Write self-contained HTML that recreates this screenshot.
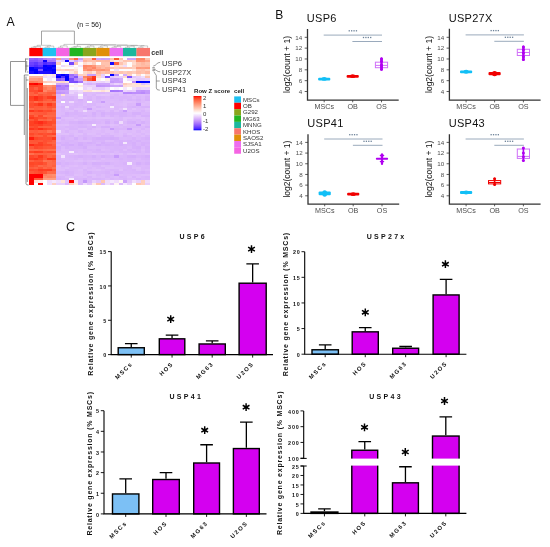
<!DOCTYPE html><html><head><meta charset="utf-8"><style>html,body{margin:0;padding:0;background:#fff;}svg{display:block;filter:blur(0.4px);}text{font-family:"Liberation Sans", sans-serif;}</style></head><body>
<svg width="550" height="547" viewBox="0 0 550 547">
<rect width="550" height="547" fill="#fff"/>
<defs><filter id="hb" x="-2%" y="-2%" width="104%" height="104%"><feGaussianBlur stdDeviation="0.3"/></filter></defs>
<g shape-rendering="crispEdges" filter="url(#hb)">
<rect x="29.30" y="57.80" width="4.76" height="2.57" fill="#9564fd"/>
<rect x="33.76" y="57.80" width="4.76" height="2.57" fill="#8c5cfd"/>
<rect x="38.23" y="57.80" width="4.76" height="2.57" fill="#9c6bfc"/>
<rect x="42.69" y="57.80" width="4.76" height="2.57" fill="#af7dfb"/>
<rect x="47.15" y="57.80" width="4.76" height="2.57" fill="#ba8afb"/>
<rect x="51.61" y="57.80" width="4.76" height="2.57" fill="#b180fb"/>
<rect x="56.08" y="57.80" width="4.76" height="2.57" fill="#ffa387"/>
<rect x="60.54" y="57.80" width="4.76" height="2.57" fill="#cba0fb"/>
<rect x="65.00" y="57.80" width="4.76" height="2.57" fill="#cca2fb"/>
<rect x="69.47" y="57.80" width="4.76" height="2.57" fill="#ff997b"/>
<rect x="73.93" y="57.80" width="4.76" height="2.57" fill="#ff6241"/>
<rect x="78.39" y="57.80" width="4.76" height="2.57" fill="#caa0fb"/>
<rect x="82.86" y="57.80" width="4.76" height="2.57" fill="#ffc3af"/>
<rect x="87.32" y="57.80" width="4.76" height="2.57" fill="#ffc3af"/>
<rect x="91.78" y="57.80" width="4.76" height="2.57" fill="#ff603f"/>
<rect x="96.24" y="57.80" width="4.76" height="2.57" fill="#d0a7fb"/>
<rect x="100.71" y="57.80" width="4.76" height="2.57" fill="#caa0fb"/>
<rect x="105.17" y="57.80" width="4.76" height="2.57" fill="#cda3fb"/>
<rect x="109.63" y="57.80" width="4.76" height="2.57" fill="#ffc1ac"/>
<rect x="114.10" y="57.80" width="4.76" height="2.57" fill="#ff5737"/>
<rect x="118.56" y="57.80" width="4.76" height="2.57" fill="#ffc6b3"/>
<rect x="123.02" y="57.80" width="4.76" height="2.57" fill="#fffefe"/>
<rect x="127.49" y="57.80" width="4.76" height="2.57" fill="#cea5fb"/>
<rect x="131.95" y="57.80" width="4.76" height="2.57" fill="#cda3fb"/>
<rect x="136.41" y="57.80" width="4.76" height="2.57" fill="#ff8969"/>
<rect x="140.87" y="57.80" width="4.76" height="2.57" fill="#ff8666"/>
<rect x="145.34" y="57.80" width="4.76" height="2.57" fill="#ffc2ad"/>
<rect x="29.30" y="60.07" width="4.76" height="2.57" fill="#8455fd"/>
<rect x="33.76" y="60.07" width="4.76" height="2.57" fill="#8254fe"/>
<rect x="38.23" y="60.07" width="4.76" height="2.57" fill="#9060fd"/>
<rect x="42.69" y="60.07" width="4.76" height="2.57" fill="#0d03ff"/>
<rect x="47.15" y="60.07" width="4.76" height="2.57" fill="#a473fc"/>
<rect x="51.61" y="60.07" width="4.76" height="2.57" fill="#a877fc"/>
<rect x="56.08" y="60.07" width="4.76" height="2.57" fill="#ebd4fc"/>
<rect x="60.54" y="60.07" width="4.76" height="2.57" fill="#e7cdfc"/>
<rect x="65.00" y="60.07" width="4.76" height="2.57" fill="#1105ff"/>
<rect x="69.47" y="60.07" width="4.76" height="2.57" fill="#e9cffc"/>
<rect x="73.93" y="60.07" width="4.76" height="2.57" fill="#d2aafb"/>
<rect x="78.39" y="60.07" width="4.76" height="2.57" fill="#e7ccfb"/>
<rect x="82.86" y="60.07" width="4.76" height="2.57" fill="#ffb49c"/>
<rect x="87.32" y="60.07" width="4.76" height="2.57" fill="#ffc0ab"/>
<rect x="91.78" y="60.07" width="4.76" height="2.57" fill="#ffc1ad"/>
<rect x="96.24" y="60.07" width="4.76" height="2.57" fill="#ffb69e"/>
<rect x="100.71" y="60.07" width="4.76" height="2.57" fill="#ffb9a2"/>
<rect x="105.17" y="60.07" width="4.76" height="2.57" fill="#ffb69f"/>
<rect x="109.63" y="60.07" width="4.76" height="2.57" fill="#ffdbce"/>
<rect x="114.10" y="60.07" width="4.76" height="2.57" fill="#ffe7df"/>
<rect x="118.56" y="60.07" width="4.76" height="2.57" fill="#ffdacd"/>
<rect x="123.02" y="60.07" width="4.76" height="2.57" fill="#ffc4b0"/>
<rect x="127.49" y="60.07" width="4.76" height="2.57" fill="#ffc7b4"/>
<rect x="131.95" y="60.07" width="4.76" height="2.57" fill="#ffcfbe"/>
<rect x="136.41" y="60.07" width="4.76" height="2.57" fill="#ff9375"/>
<rect x="140.87" y="60.07" width="4.76" height="2.57" fill="#ff9678"/>
<rect x="145.34" y="60.07" width="4.76" height="2.57" fill="#ffa589"/>
<rect x="29.30" y="62.34" width="4.76" height="2.57" fill="#6d42ff"/>
<rect x="33.76" y="62.34" width="4.76" height="2.57" fill="#5f37ff"/>
<rect x="38.23" y="62.34" width="4.76" height="2.57" fill="#7448fe"/>
<rect x="42.69" y="62.34" width="4.76" height="2.57" fill="#4f2aff"/>
<rect x="47.15" y="62.34" width="4.76" height="2.57" fill="#5f37ff"/>
<rect x="51.61" y="62.34" width="4.76" height="2.57" fill="#5630ff"/>
<rect x="56.08" y="62.34" width="4.76" height="2.57" fill="#ffcdbc"/>
<rect x="60.54" y="62.34" width="4.76" height="2.57" fill="#fffffe"/>
<rect x="65.00" y="62.34" width="4.76" height="2.57" fill="#fffefe"/>
<rect x="69.47" y="62.34" width="4.76" height="2.57" fill="#764afe"/>
<rect x="73.93" y="62.34" width="4.76" height="2.57" fill="#ffc5b1"/>
<rect x="78.39" y="62.34" width="4.76" height="2.57" fill="#fffcfb"/>
<rect x="82.86" y="62.34" width="4.76" height="2.57" fill="#ffdacd"/>
<rect x="87.32" y="62.34" width="4.76" height="2.57" fill="#ffe6dd"/>
<rect x="91.78" y="62.34" width="4.76" height="2.57" fill="#ffcfbe"/>
<rect x="96.24" y="62.34" width="4.76" height="2.57" fill="#fefefe"/>
<rect x="100.71" y="62.34" width="4.76" height="2.57" fill="#ffc3af"/>
<rect x="105.17" y="62.34" width="4.76" height="2.57" fill="#ffc2ae"/>
<rect x="109.63" y="62.34" width="4.76" height="2.57" fill="#1808ff"/>
<rect x="114.10" y="62.34" width="4.76" height="2.57" fill="#ff6241"/>
<rect x="118.56" y="62.34" width="4.76" height="2.57" fill="#ffc3b0"/>
<rect x="123.02" y="62.34" width="4.76" height="2.57" fill="#ffdacd"/>
<rect x="127.49" y="62.34" width="4.76" height="2.57" fill="#fffdfd"/>
<rect x="131.95" y="62.34" width="4.76" height="2.57" fill="#ffdbce"/>
<rect x="136.41" y="62.34" width="4.76" height="2.57" fill="#ffc2ad"/>
<rect x="140.87" y="62.34" width="4.76" height="2.57" fill="#ffb7a0"/>
<rect x="145.34" y="62.34" width="4.76" height="2.57" fill="#ffc1ac"/>
<rect x="29.30" y="64.61" width="4.76" height="2.57" fill="#6037ff"/>
<rect x="33.76" y="64.61" width="4.76" height="2.57" fill="#4f2aff"/>
<rect x="38.23" y="64.61" width="4.76" height="2.57" fill="#5f36ff"/>
<rect x="42.69" y="64.61" width="4.76" height="2.57" fill="#0000ff"/>
<rect x="47.15" y="64.61" width="4.76" height="2.57" fill="#1406ff"/>
<rect x="51.61" y="64.61" width="4.76" height="2.57" fill="#0000ff"/>
<rect x="56.08" y="64.61" width="4.76" height="2.57" fill="#fffcfb"/>
<rect x="60.54" y="64.61" width="4.76" height="2.57" fill="#eed9fc"/>
<rect x="65.00" y="64.61" width="4.76" height="2.57" fill="#ffece5"/>
<rect x="69.47" y="64.61" width="4.76" height="2.57" fill="#f2e4fd"/>
<rect x="73.93" y="64.61" width="4.76" height="2.57" fill="#fffffe"/>
<rect x="78.39" y="64.61" width="4.76" height="2.57" fill="#f3e4fd"/>
<rect x="82.86" y="64.61" width="4.76" height="2.57" fill="#ff8565"/>
<rect x="87.32" y="64.61" width="4.76" height="2.57" fill="#ff8a6a"/>
<rect x="91.78" y="64.61" width="4.76" height="2.57" fill="#ff9678"/>
<rect x="96.24" y="64.61" width="4.76" height="2.57" fill="#ffb69f"/>
<rect x="100.71" y="64.61" width="4.76" height="2.57" fill="#ffb9a3"/>
<rect x="105.17" y="64.61" width="4.76" height="2.57" fill="#ffc2ae"/>
<rect x="109.63" y="64.61" width="4.76" height="2.57" fill="#fff2ee"/>
<rect x="114.10" y="64.61" width="4.76" height="2.57" fill="#ffdacd"/>
<rect x="118.56" y="64.61" width="4.76" height="2.57" fill="#ffe1d6"/>
<rect x="123.02" y="64.61" width="4.76" height="2.57" fill="#efdbfc"/>
<rect x="127.49" y="64.61" width="4.76" height="2.57" fill="#fffefd"/>
<rect x="131.95" y="64.61" width="4.76" height="2.57" fill="#ffccba"/>
<rect x="136.41" y="64.61" width="4.76" height="2.57" fill="#ffc1ac"/>
<rect x="140.87" y="64.61" width="4.76" height="2.57" fill="#ffbba5"/>
<rect x="145.34" y="64.61" width="4.76" height="2.57" fill="#ffbaa4"/>
<rect x="29.30" y="66.89" width="4.76" height="2.57" fill="#0201ff"/>
<rect x="33.76" y="66.89" width="4.76" height="2.57" fill="#1f0bff"/>
<rect x="38.23" y="66.89" width="4.76" height="2.57" fill="#2e14ff"/>
<rect x="42.69" y="66.89" width="4.76" height="2.57" fill="#0e04ff"/>
<rect x="47.15" y="66.89" width="4.76" height="2.57" fill="#0000ff"/>
<rect x="51.61" y="66.89" width="4.76" height="2.57" fill="#1b09ff"/>
<rect x="56.08" y="66.89" width="4.76" height="2.57" fill="#fff0eb"/>
<rect x="60.54" y="66.89" width="4.76" height="2.57" fill="#fffdfc"/>
<rect x="65.00" y="66.89" width="4.76" height="2.57" fill="#fffcfb"/>
<rect x="69.47" y="66.89" width="4.76" height="2.57" fill="#fffefe"/>
<rect x="73.93" y="66.89" width="4.76" height="2.57" fill="#fff2ed"/>
<rect x="78.39" y="66.89" width="4.76" height="2.57" fill="#fffefd"/>
<rect x="82.86" y="66.89" width="4.76" height="2.57" fill="#ff8a6a"/>
<rect x="87.32" y="66.89" width="4.76" height="2.57" fill="#ff987a"/>
<rect x="91.78" y="66.89" width="4.76" height="2.57" fill="#ff8565"/>
<rect x="96.24" y="66.89" width="4.76" height="2.57" fill="#ffac92"/>
<rect x="100.71" y="66.89" width="4.76" height="2.57" fill="#ffbaa4"/>
<rect x="105.17" y="66.89" width="4.76" height="2.57" fill="#ffac92"/>
<rect x="109.63" y="66.89" width="4.76" height="2.57" fill="#ffc2ad"/>
<rect x="114.10" y="66.89" width="4.76" height="2.57" fill="#ffcfbe"/>
<rect x="118.56" y="66.89" width="4.76" height="2.57" fill="#ffc3af"/>
<rect x="123.02" y="66.89" width="4.76" height="2.57" fill="#ffc4b1"/>
<rect x="127.49" y="66.89" width="4.76" height="2.57" fill="#ffc4b0"/>
<rect x="131.95" y="66.89" width="4.76" height="2.57" fill="#ffcebd"/>
<rect x="136.41" y="66.89" width="4.76" height="2.57" fill="#ff997b"/>
<rect x="140.87" y="66.89" width="4.76" height="2.57" fill="#ff9e82"/>
<rect x="145.34" y="66.89" width="4.76" height="2.57" fill="#ff997b"/>
<rect x="29.30" y="69.16" width="4.76" height="2.57" fill="#0000ff"/>
<rect x="33.76" y="69.16" width="4.76" height="2.57" fill="#0000ff"/>
<rect x="38.23" y="69.16" width="4.76" height="2.57" fill="#8153fe"/>
<rect x="42.69" y="69.16" width="4.76" height="2.57" fill="#0000ff"/>
<rect x="47.15" y="69.16" width="4.76" height="2.57" fill="#0702ff"/>
<rect x="51.61" y="69.16" width="4.76" height="2.57" fill="#0000ff"/>
<rect x="56.08" y="69.16" width="4.76" height="2.57" fill="#ffd1c1"/>
<rect x="60.54" y="69.16" width="4.76" height="2.57" fill="#ffd6c8"/>
<rect x="65.00" y="69.16" width="4.76" height="2.57" fill="#ffcab8"/>
<rect x="69.47" y="69.16" width="4.76" height="2.57" fill="#ffd1c1"/>
<rect x="73.93" y="69.16" width="4.76" height="2.57" fill="#ffe2d8"/>
<rect x="78.39" y="69.16" width="4.76" height="2.57" fill="#ffffff"/>
<rect x="82.86" y="69.16" width="4.76" height="2.57" fill="#ff997c"/>
<rect x="87.32" y="69.16" width="4.76" height="2.57" fill="#ff8868"/>
<rect x="91.78" y="69.16" width="4.76" height="2.57" fill="#ff9e81"/>
<rect x="96.24" y="69.16" width="4.76" height="2.57" fill="#ff9779"/>
<rect x="100.71" y="69.16" width="4.76" height="2.57" fill="#ff9273"/>
<rect x="105.17" y="69.16" width="4.76" height="2.57" fill="#ffa185"/>
<rect x="109.63" y="69.16" width="4.76" height="2.57" fill="#fffdfc"/>
<rect x="114.10" y="69.16" width="4.76" height="2.57" fill="#f0defc"/>
<rect x="118.56" y="69.16" width="4.76" height="2.57" fill="#fdfcfe"/>
<rect x="123.02" y="69.16" width="4.76" height="2.57" fill="#fffcfb"/>
<rect x="127.49" y="69.16" width="4.76" height="2.57" fill="#fdfcfe"/>
<rect x="131.95" y="69.16" width="4.76" height="2.57" fill="#ffece5"/>
<rect x="136.41" y="69.16" width="4.76" height="2.57" fill="#ffc6b3"/>
<rect x="140.87" y="69.16" width="4.76" height="2.57" fill="#ffc1ad"/>
<rect x="145.34" y="69.16" width="4.76" height="2.57" fill="#ffcebd"/>
<rect x="29.30" y="71.43" width="4.76" height="2.57" fill="#1707ff"/>
<rect x="33.76" y="71.43" width="4.76" height="2.57" fill="#0000ff"/>
<rect x="38.23" y="71.43" width="4.76" height="2.57" fill="#210cff"/>
<rect x="42.69" y="71.43" width="4.76" height="2.57" fill="#1e0bff"/>
<rect x="47.15" y="71.43" width="4.76" height="2.57" fill="#1f0bff"/>
<rect x="51.61" y="71.43" width="4.76" height="2.57" fill="#0d03ff"/>
<rect x="56.08" y="71.43" width="4.76" height="2.57" fill="#fefdfe"/>
<rect x="60.54" y="71.43" width="4.76" height="2.57" fill="#fff3ee"/>
<rect x="65.00" y="71.43" width="4.76" height="2.57" fill="#fdfbfe"/>
<rect x="69.47" y="71.43" width="4.76" height="2.57" fill="#ffe7df"/>
<rect x="73.93" y="71.43" width="4.76" height="2.57" fill="#ffcfbf"/>
<rect x="78.39" y="71.43" width="4.76" height="2.57" fill="#fffffe"/>
<rect x="82.86" y="71.43" width="4.76" height="2.57" fill="#ffdbce"/>
<rect x="87.32" y="71.43" width="4.76" height="2.57" fill="#ffcdbc"/>
<rect x="91.78" y="71.43" width="4.76" height="2.57" fill="#ffe5dc"/>
<rect x="96.24" y="71.43" width="4.76" height="2.57" fill="#ffb69f"/>
<rect x="100.71" y="71.43" width="4.76" height="2.57" fill="#ffc3af"/>
<rect x="105.17" y="71.43" width="4.76" height="2.57" fill="#ffb8a1"/>
<rect x="109.63" y="71.43" width="4.76" height="2.57" fill="#ffc2ad"/>
<rect x="114.10" y="71.43" width="4.76" height="2.57" fill="#ffcfbf"/>
<rect x="118.56" y="71.43" width="4.76" height="2.57" fill="#ffc3af"/>
<rect x="123.02" y="71.43" width="4.76" height="2.57" fill="#ffcdbb"/>
<rect x="127.49" y="71.43" width="4.76" height="2.57" fill="#ffc4b0"/>
<rect x="131.95" y="71.43" width="4.76" height="2.57" fill="#ffcdbc"/>
<rect x="136.41" y="71.43" width="4.76" height="2.57" fill="#ffbba5"/>
<rect x="140.87" y="71.43" width="4.76" height="2.57" fill="#ffc2ad"/>
<rect x="145.34" y="71.43" width="4.76" height="2.57" fill="#ffb69f"/>
<rect x="29.30" y="73.70" width="4.76" height="2.57" fill="#fffcfb"/>
<rect x="33.76" y="73.70" width="4.76" height="2.57" fill="#fffdfc"/>
<rect x="38.23" y="73.70" width="4.76" height="2.57" fill="#fffdfd"/>
<rect x="42.69" y="73.70" width="4.76" height="2.57" fill="#ffe5db"/>
<rect x="47.15" y="73.70" width="4.76" height="2.57" fill="#ffeee8"/>
<rect x="51.61" y="73.70" width="4.76" height="2.57" fill="#ffe4db"/>
<rect x="56.08" y="73.70" width="4.76" height="2.57" fill="#200cff"/>
<rect x="60.54" y="73.70" width="4.76" height="2.57" fill="#0000ff"/>
<rect x="65.00" y="73.70" width="4.76" height="2.57" fill="#1e0bff"/>
<rect x="69.47" y="73.70" width="4.76" height="2.57" fill="#9e6dfc"/>
<rect x="73.93" y="73.70" width="4.76" height="2.57" fill="#ba8afb"/>
<rect x="78.39" y="73.70" width="4.76" height="2.57" fill="#ffd1c2"/>
<rect x="82.86" y="73.70" width="4.76" height="2.57" fill="#ffd1c1"/>
<rect x="87.32" y="73.70" width="4.76" height="2.57" fill="#ca9ffb"/>
<rect x="91.78" y="73.70" width="4.76" height="2.57" fill="#ca9efb"/>
<rect x="96.24" y="73.70" width="4.76" height="2.57" fill="#ffc8b5"/>
<rect x="100.71" y="73.70" width="4.76" height="2.57" fill="#e7cdfc"/>
<rect x="105.17" y="73.70" width="4.76" height="2.57" fill="#fffcfb"/>
<rect x="109.63" y="73.70" width="4.76" height="2.57" fill="#0000ff"/>
<rect x="114.10" y="73.70" width="4.76" height="2.57" fill="#ba8afb"/>
<rect x="118.56" y="73.70" width="4.76" height="2.57" fill="#fefdfe"/>
<rect x="123.02" y="73.70" width="4.76" height="2.57" fill="#d3acfb"/>
<rect x="127.49" y="73.70" width="4.76" height="2.57" fill="#ffd2c3"/>
<rect x="131.95" y="73.70" width="4.76" height="2.57" fill="#fffdfc"/>
<rect x="136.41" y="73.70" width="4.76" height="2.57" fill="#ffd9cb"/>
<rect x="140.87" y="73.70" width="4.76" height="2.57" fill="#fdfbfe"/>
<rect x="145.34" y="73.70" width="4.76" height="2.57" fill="#ffe1d6"/>
<rect x="29.30" y="75.97" width="4.76" height="2.57" fill="#ffb69e"/>
<rect x="33.76" y="75.97" width="4.76" height="2.57" fill="#ffb59d"/>
<rect x="38.23" y="75.97" width="4.76" height="2.57" fill="#ffb59e"/>
<rect x="42.69" y="75.97" width="4.76" height="2.57" fill="#efdbfc"/>
<rect x="47.15" y="75.97" width="4.76" height="2.57" fill="#f3e5fd"/>
<rect x="51.61" y="75.97" width="4.76" height="2.57" fill="#eed9fc"/>
<rect x="56.08" y="75.97" width="4.76" height="2.57" fill="#0000ff"/>
<rect x="60.54" y="75.97" width="4.76" height="2.57" fill="#532eff"/>
<rect x="65.00" y="75.97" width="4.76" height="2.57" fill="#0000ff"/>
<rect x="69.47" y="75.97" width="4.76" height="2.57" fill="#a979fb"/>
<rect x="73.93" y="75.97" width="4.76" height="2.57" fill="#8455fd"/>
<rect x="78.39" y="75.97" width="4.76" height="2.57" fill="#debbfb"/>
<rect x="82.86" y="75.97" width="4.76" height="2.57" fill="#ff8666"/>
<rect x="87.32" y="75.97" width="4.76" height="2.57" fill="#ff714f"/>
<rect x="91.78" y="75.97" width="4.76" height="2.57" fill="#ff381d"/>
<rect x="96.24" y="75.97" width="4.76" height="2.57" fill="#ffd9cb"/>
<rect x="100.71" y="75.97" width="4.76" height="2.57" fill="#ead0fc"/>
<rect x="105.17" y="75.97" width="4.76" height="2.57" fill="#7146fe"/>
<rect x="109.63" y="75.97" width="4.76" height="2.57" fill="#e2c3fb"/>
<rect x="114.10" y="75.97" width="4.76" height="2.57" fill="#e7ccfb"/>
<rect x="118.56" y="75.97" width="4.76" height="2.57" fill="#e8cdfc"/>
<rect x="123.02" y="75.97" width="4.76" height="2.57" fill="#ffdacd"/>
<rect x="127.49" y="75.97" width="4.76" height="2.57" fill="#7f52fe"/>
<rect x="131.95" y="75.97" width="4.76" height="2.57" fill="#e3c4fb"/>
<rect x="136.41" y="75.97" width="4.76" height="2.57" fill="#e9cffc"/>
<rect x="140.87" y="75.97" width="4.76" height="2.57" fill="#efddfc"/>
<rect x="145.34" y="75.97" width="4.76" height="2.57" fill="#ffc2ad"/>
<rect x="29.30" y="78.24" width="4.76" height="2.57" fill="#ff9e81"/>
<rect x="33.76" y="78.24" width="4.76" height="2.57" fill="#ff9d81"/>
<rect x="38.23" y="78.24" width="4.76" height="2.57" fill="#ff9678"/>
<rect x="42.69" y="78.24" width="4.76" height="2.57" fill="#fffdfc"/>
<rect x="47.15" y="78.24" width="4.76" height="2.57" fill="#f5e9fd"/>
<rect x="51.61" y="78.24" width="4.76" height="2.57" fill="#fefdfe"/>
<rect x="56.08" y="78.24" width="4.76" height="2.57" fill="#8a5afd"/>
<rect x="60.54" y="78.24" width="4.76" height="2.57" fill="#9c6bfc"/>
<rect x="65.00" y="78.24" width="4.76" height="2.57" fill="#0000ff"/>
<rect x="69.47" y="78.24" width="4.76" height="2.57" fill="#7d4ffe"/>
<rect x="73.93" y="78.24" width="4.76" height="2.57" fill="#b988fb"/>
<rect x="78.39" y="78.24" width="4.76" height="2.57" fill="#cba0fb"/>
<rect x="82.86" y="78.24" width="4.76" height="2.57" fill="#ffa286"/>
<rect x="87.32" y="78.24" width="4.76" height="2.57" fill="#ff5938"/>
<rect x="91.78" y="78.24" width="4.76" height="2.57" fill="#ff2d15"/>
<rect x="96.24" y="78.24" width="4.76" height="2.57" fill="#fff3ef"/>
<rect x="100.71" y="78.24" width="4.76" height="2.57" fill="#fefdfe"/>
<rect x="105.17" y="78.24" width="4.76" height="2.57" fill="#ffeee8"/>
<rect x="109.63" y="78.24" width="4.76" height="2.57" fill="#cda3fb"/>
<rect x="114.10" y="78.24" width="4.76" height="2.57" fill="#c99efb"/>
<rect x="118.56" y="78.24" width="4.76" height="2.57" fill="#d2abfb"/>
<rect x="123.02" y="78.24" width="4.76" height="2.57" fill="#fffcfb"/>
<rect x="127.49" y="78.24" width="4.76" height="2.57" fill="#f0defc"/>
<rect x="131.95" y="78.24" width="4.76" height="2.57" fill="#edd7fc"/>
<rect x="136.41" y="78.24" width="4.76" height="2.57" fill="#e5c7fb"/>
<rect x="140.87" y="78.24" width="4.76" height="2.57" fill="#e5c8fb"/>
<rect x="145.34" y="78.24" width="4.76" height="2.57" fill="#e7cdfc"/>
<rect x="29.30" y="80.51" width="4.76" height="2.57" fill="#ff7b59"/>
<rect x="33.76" y="80.51" width="4.76" height="2.57" fill="#ff805f"/>
<rect x="38.23" y="80.51" width="4.76" height="2.57" fill="#ff8c6d"/>
<rect x="42.69" y="80.51" width="4.76" height="2.57" fill="#ffcbba"/>
<rect x="47.15" y="80.51" width="4.76" height="2.57" fill="#ffd1c2"/>
<rect x="51.61" y="80.51" width="4.76" height="2.57" fill="#ffd8cb"/>
<rect x="56.08" y="80.51" width="4.76" height="2.57" fill="#ffdacd"/>
<rect x="60.54" y="80.51" width="4.76" height="2.57" fill="#ffd6c7"/>
<rect x="65.00" y="80.51" width="4.76" height="2.57" fill="#ffe1d6"/>
<rect x="69.47" y="80.51" width="4.76" height="2.57" fill="#7b4dfe"/>
<rect x="73.93" y="80.51" width="4.76" height="2.57" fill="#7a4dfe"/>
<rect x="78.39" y="80.51" width="4.76" height="2.57" fill="#a674fc"/>
<rect x="82.86" y="80.51" width="4.76" height="2.57" fill="#ead1fc"/>
<rect x="87.32" y="80.51" width="4.76" height="2.57" fill="#e3c5fb"/>
<rect x="91.78" y="80.51" width="4.76" height="2.57" fill="#e8cefc"/>
<rect x="96.24" y="80.51" width="4.76" height="2.57" fill="#ebd3fc"/>
<rect x="100.71" y="80.51" width="4.76" height="2.57" fill="#e9d0fc"/>
<rect x="105.17" y="80.51" width="4.76" height="2.57" fill="#efddfc"/>
<rect x="109.63" y="80.51" width="4.76" height="2.57" fill="#c599fb"/>
<rect x="114.10" y="80.51" width="4.76" height="2.57" fill="#cba0fb"/>
<rect x="118.56" y="80.51" width="4.76" height="2.57" fill="#cba0fb"/>
<rect x="123.02" y="80.51" width="4.76" height="2.57" fill="#fffefe"/>
<rect x="127.49" y="80.51" width="4.76" height="2.57" fill="#fffffe"/>
<rect x="131.95" y="80.51" width="4.76" height="2.57" fill="#bb8bfb"/>
<rect x="136.41" y="80.51" width="4.76" height="2.57" fill="#0000ff"/>
<rect x="140.87" y="80.51" width="4.76" height="2.57" fill="#0200ff"/>
<rect x="145.34" y="80.51" width="4.76" height="2.57" fill="#0000ff"/>
<rect x="29.30" y="82.79" width="4.76" height="2.57" fill="#ff1105"/>
<rect x="33.76" y="82.79" width="4.76" height="2.57" fill="#ff0000"/>
<rect x="38.23" y="82.79" width="4.76" height="2.57" fill="#ff200d"/>
<rect x="42.69" y="82.79" width="4.76" height="2.57" fill="#fff8f5"/>
<rect x="47.15" y="82.79" width="4.76" height="2.57" fill="#fffcfb"/>
<rect x="51.61" y="82.79" width="4.76" height="2.57" fill="#fff3ee"/>
<rect x="56.08" y="82.79" width="4.76" height="2.57" fill="#cfa6fb"/>
<rect x="60.54" y="82.79" width="4.76" height="2.57" fill="#cfa6fb"/>
<rect x="65.00" y="82.79" width="4.76" height="2.57" fill="#d1a9fb"/>
<rect x="69.47" y="82.79" width="4.76" height="2.57" fill="#fffefe"/>
<rect x="73.93" y="82.79" width="4.76" height="2.57" fill="#f5e8fd"/>
<rect x="78.39" y="82.79" width="4.76" height="2.57" fill="#fefefe"/>
<rect x="82.86" y="82.79" width="4.76" height="2.57" fill="#dfbdfb"/>
<rect x="87.32" y="82.79" width="4.76" height="2.57" fill="#d9b4fb"/>
<rect x="91.78" y="82.79" width="4.76" height="2.57" fill="#debbfb"/>
<rect x="96.24" y="82.79" width="4.76" height="2.57" fill="#cea5fb"/>
<rect x="100.71" y="82.79" width="4.76" height="2.57" fill="#cfa6fb"/>
<rect x="105.17" y="82.79" width="4.76" height="2.57" fill="#cfa5fb"/>
<rect x="109.63" y="82.79" width="4.76" height="2.57" fill="#e1c2fb"/>
<rect x="114.10" y="82.79" width="4.76" height="2.57" fill="#ebd3fc"/>
<rect x="118.56" y="82.79" width="4.76" height="2.57" fill="#e7ccfb"/>
<rect x="123.02" y="82.79" width="4.76" height="2.57" fill="#ffcdbb"/>
<rect x="127.49" y="82.79" width="4.76" height="2.57" fill="#ffd9cc"/>
<rect x="131.95" y="82.79" width="4.76" height="2.57" fill="#ffe3d8"/>
<rect x="136.41" y="82.79" width="4.76" height="2.57" fill="#ffdfd3"/>
<rect x="140.87" y="82.79" width="4.76" height="2.57" fill="#e2c2fb"/>
<rect x="145.34" y="82.79" width="4.76" height="2.57" fill="#e8cefc"/>
<rect x="29.30" y="85.06" width="4.76" height="2.57" fill="#ff4225"/>
<rect x="33.76" y="85.06" width="4.76" height="2.57" fill="#ff4426"/>
<rect x="38.23" y="85.06" width="4.76" height="2.57" fill="#ff4a2b"/>
<rect x="42.69" y="85.06" width="4.76" height="2.57" fill="#ff8b6c"/>
<rect x="47.15" y="85.06" width="4.76" height="2.57" fill="#ff9273"/>
<rect x="51.61" y="85.06" width="4.76" height="2.57" fill="#ff8666"/>
<rect x="56.08" y="85.06" width="4.76" height="2.57" fill="#a472fc"/>
<rect x="60.54" y="85.06" width="4.76" height="2.57" fill="#b382fb"/>
<rect x="65.00" y="85.06" width="4.76" height="2.57" fill="#a776fc"/>
<rect x="69.47" y="85.06" width="4.76" height="2.57" fill="#fff0ea"/>
<rect x="73.93" y="85.06" width="4.76" height="2.57" fill="#fff4f0"/>
<rect x="78.39" y="85.06" width="4.76" height="2.57" fill="#ffebe3"/>
<rect x="82.86" y="85.06" width="4.76" height="2.57" fill="#ebd3fc"/>
<rect x="87.32" y="85.06" width="4.76" height="2.57" fill="#e9d0fc"/>
<rect x="91.78" y="85.06" width="4.76" height="2.57" fill="#ead1fc"/>
<rect x="96.24" y="85.06" width="4.76" height="2.57" fill="#c192fb"/>
<rect x="100.71" y="85.06" width="4.76" height="2.57" fill="#c396fb"/>
<rect x="105.17" y="85.06" width="4.76" height="2.57" fill="#c69afb"/>
<rect x="109.63" y="85.06" width="4.76" height="2.57" fill="#cda3fb"/>
<rect x="114.10" y="85.06" width="4.76" height="2.57" fill="#cfa5fb"/>
<rect x="118.56" y="85.06" width="4.76" height="2.57" fill="#ca9ffb"/>
<rect x="123.02" y="85.06" width="4.76" height="2.57" fill="#ffdfd4"/>
<rect x="127.49" y="85.06" width="4.76" height="2.57" fill="#ffe3d9"/>
<rect x="131.95" y="85.06" width="4.76" height="2.57" fill="#ffe2d8"/>
<rect x="136.41" y="85.06" width="4.76" height="2.57" fill="#ffe4da"/>
<rect x="140.87" y="85.06" width="4.76" height="2.57" fill="#ffe4db"/>
<rect x="145.34" y="85.06" width="4.76" height="2.57" fill="#ffe9e1"/>
<rect x="29.30" y="87.33" width="4.76" height="2.57" fill="#ff5031"/>
<rect x="33.76" y="87.33" width="4.76" height="2.57" fill="#ff613f"/>
<rect x="38.23" y="87.33" width="4.76" height="2.57" fill="#ff482a"/>
<rect x="42.69" y="87.33" width="4.76" height="2.57" fill="#ff7a59"/>
<rect x="47.15" y="87.33" width="4.76" height="2.57" fill="#ff8767"/>
<rect x="51.61" y="87.33" width="4.76" height="2.57" fill="#ff7756"/>
<rect x="56.08" y="87.33" width="4.76" height="2.57" fill="#b180fb"/>
<rect x="60.54" y="87.33" width="4.76" height="2.57" fill="#b180fb"/>
<rect x="65.00" y="87.33" width="4.76" height="2.57" fill="#ba8afb"/>
<rect x="69.47" y="87.33" width="4.76" height="2.57" fill="#fdfbfe"/>
<rect x="73.93" y="87.33" width="4.76" height="2.57" fill="#f9f1fe"/>
<rect x="78.39" y="87.33" width="4.76" height="2.57" fill="#fffcfb"/>
<rect x="82.86" y="87.33" width="4.76" height="2.57" fill="#ebd3fc"/>
<rect x="87.32" y="87.33" width="4.76" height="2.57" fill="#f1dffc"/>
<rect x="91.78" y="87.33" width="4.76" height="2.57" fill="#e8cefc"/>
<rect x="96.24" y="87.33" width="4.76" height="2.57" fill="#e8cdfc"/>
<rect x="100.71" y="87.33" width="4.76" height="2.57" fill="#e7ccfb"/>
<rect x="105.17" y="87.33" width="4.76" height="2.57" fill="#efdcfc"/>
<rect x="109.63" y="87.33" width="4.76" height="2.57" fill="#fefefe"/>
<rect x="114.10" y="87.33" width="4.76" height="2.57" fill="#f9f3fe"/>
<rect x="118.56" y="87.33" width="4.76" height="2.57" fill="#fffffe"/>
<rect x="123.02" y="87.33" width="4.76" height="2.57" fill="#f5e8fd"/>
<rect x="127.49" y="87.33" width="4.76" height="2.57" fill="#fefefe"/>
<rect x="131.95" y="87.33" width="4.76" height="2.57" fill="#f0dffc"/>
<rect x="136.41" y="87.33" width="4.76" height="2.57" fill="#e8cdfc"/>
<rect x="140.87" y="87.33" width="4.76" height="2.57" fill="#ebd4fc"/>
<rect x="145.34" y="87.33" width="4.76" height="2.57" fill="#ead1fc"/>
<rect x="29.30" y="89.60" width="4.76" height="2.57" fill="#ff4c2d"/>
<rect x="33.76" y="89.60" width="4.76" height="2.57" fill="#ff4c2d"/>
<rect x="38.23" y="89.60" width="4.76" height="2.57" fill="#ff371c"/>
<rect x="42.69" y="89.60" width="4.76" height="2.57" fill="#ff8767"/>
<rect x="47.15" y="89.60" width="4.76" height="2.57" fill="#ff7554"/>
<rect x="51.61" y="89.60" width="4.76" height="2.57" fill="#ff7352"/>
<rect x="56.08" y="89.60" width="4.76" height="2.57" fill="#c99efb"/>
<rect x="60.54" y="89.60" width="4.76" height="2.57" fill="#cba0fb"/>
<rect x="65.00" y="89.60" width="4.76" height="2.57" fill="#cca2fb"/>
<rect x="69.47" y="89.60" width="4.76" height="2.57" fill="#e9cffc"/>
<rect x="73.93" y="89.60" width="4.76" height="2.57" fill="#ead1fc"/>
<rect x="78.39" y="89.60" width="4.76" height="2.57" fill="#efdafc"/>
<rect x="82.86" y="89.60" width="4.76" height="2.57" fill="#ffe4da"/>
<rect x="87.32" y="89.60" width="4.76" height="2.57" fill="#ffe0d5"/>
<rect x="91.78" y="89.60" width="4.76" height="2.57" fill="#ffeee7"/>
<rect x="96.24" y="89.60" width="4.76" height="2.57" fill="#ffeae3"/>
<rect x="100.71" y="89.60" width="4.76" height="2.57" fill="#ffe0d5"/>
<rect x="105.17" y="89.60" width="4.76" height="2.57" fill="#ffebe4"/>
<rect x="109.63" y="89.60" width="4.76" height="2.57" fill="#a574fc"/>
<rect x="114.10" y="89.60" width="4.76" height="2.57" fill="#a978fb"/>
<rect x="118.56" y="89.60" width="4.76" height="2.57" fill="#b07ffb"/>
<rect x="123.02" y="89.60" width="4.76" height="2.57" fill="#ebd4fc"/>
<rect x="127.49" y="89.60" width="4.76" height="2.57" fill="#e7ccfb"/>
<rect x="131.95" y="89.60" width="4.76" height="2.57" fill="#e9cffc"/>
<rect x="136.41" y="89.60" width="4.76" height="2.57" fill="#c598fb"/>
<rect x="140.87" y="89.60" width="4.76" height="2.57" fill="#c192fb"/>
<rect x="145.34" y="89.60" width="4.76" height="2.57" fill="#c69afb"/>
<rect x="29.30" y="91.87" width="4.76" height="2.57" fill="#ff6140"/>
<rect x="33.76" y="91.87" width="4.76" height="2.57" fill="#ff5030"/>
<rect x="38.23" y="91.87" width="4.76" height="2.57" fill="#ff6b49"/>
<rect x="42.69" y="91.87" width="4.76" height="2.57" fill="#ff6948"/>
<rect x="47.15" y="91.87" width="4.76" height="2.57" fill="#ff5d3c"/>
<rect x="51.61" y="91.87" width="4.76" height="2.57" fill="#ff5f3e"/>
<rect x="56.08" y="91.87" width="4.76" height="2.57" fill="#c193fb"/>
<rect x="60.54" y="91.87" width="4.76" height="2.57" fill="#c497fb"/>
<rect x="65.00" y="91.87" width="4.76" height="2.57" fill="#ca9ffb"/>
<rect x="69.47" y="91.87" width="4.76" height="2.57" fill="#ebd4fc"/>
<rect x="73.93" y="91.87" width="4.76" height="2.57" fill="#e3c5fb"/>
<rect x="78.39" y="91.87" width="4.76" height="2.57" fill="#ebd3fc"/>
<rect x="82.86" y="91.87" width="4.76" height="2.57" fill="#dcb9fb"/>
<rect x="87.32" y="91.87" width="4.76" height="2.57" fill="#ddbbfb"/>
<rect x="91.78" y="91.87" width="4.76" height="2.57" fill="#ddbbfb"/>
<rect x="96.24" y="91.87" width="4.76" height="2.57" fill="#dbb7fb"/>
<rect x="100.71" y="91.87" width="4.76" height="2.57" fill="#dbb6fb"/>
<rect x="105.17" y="91.87" width="4.76" height="2.57" fill="#debcfb"/>
<rect x="109.63" y="91.87" width="4.76" height="2.57" fill="#e1c1fb"/>
<rect x="114.10" y="91.87" width="4.76" height="2.57" fill="#dfbdfb"/>
<rect x="118.56" y="91.87" width="4.76" height="2.57" fill="#e1c2fb"/>
<rect x="123.02" y="91.87" width="4.76" height="2.57" fill="#b888fb"/>
<rect x="127.49" y="91.87" width="4.76" height="2.57" fill="#b887fb"/>
<rect x="131.95" y="91.87" width="4.76" height="2.57" fill="#bd8efb"/>
<rect x="136.41" y="91.87" width="4.76" height="2.57" fill="#be8ffb"/>
<rect x="140.87" y="91.87" width="4.76" height="2.57" fill="#ba8afb"/>
<rect x="145.34" y="91.87" width="4.76" height="2.57" fill="#c598fb"/>
<rect x="29.30" y="94.14" width="4.76" height="2.57" fill="#ff6140"/>
<rect x="33.76" y="94.14" width="4.76" height="2.57" fill="#ff6846"/>
<rect x="38.23" y="94.14" width="4.76" height="2.57" fill="#ff5434"/>
<rect x="42.69" y="94.14" width="4.76" height="2.57" fill="#ff6140"/>
<rect x="47.15" y="94.14" width="4.76" height="2.57" fill="#ff5e3d"/>
<rect x="51.61" y="94.14" width="4.76" height="2.57" fill="#ff7351"/>
<rect x="56.08" y="94.14" width="4.76" height="2.57" fill="#dbb7fb"/>
<rect x="60.54" y="94.14" width="4.76" height="2.57" fill="#ffdfd4"/>
<rect x="65.00" y="94.14" width="4.76" height="2.57" fill="#debbfb"/>
<rect x="69.47" y="94.14" width="4.76" height="2.57" fill="#e1c1fb"/>
<rect x="73.93" y="94.14" width="4.76" height="2.57" fill="#e0c0fb"/>
<rect x="78.39" y="94.14" width="4.76" height="2.57" fill="#fffefd"/>
<rect x="82.86" y="94.14" width="4.76" height="2.57" fill="#d9b5fb"/>
<rect x="87.32" y="94.14" width="4.76" height="2.57" fill="#debcfb"/>
<rect x="91.78" y="94.14" width="4.76" height="2.57" fill="#dbb7fb"/>
<rect x="96.24" y="94.14" width="4.76" height="2.57" fill="#e1c2fb"/>
<rect x="100.71" y="94.14" width="4.76" height="2.57" fill="#e3c5fb"/>
<rect x="105.17" y="94.14" width="4.76" height="2.57" fill="#e2c3fb"/>
<rect x="109.63" y="94.14" width="4.76" height="2.57" fill="#ddbafb"/>
<rect x="114.10" y="94.14" width="4.76" height="2.57" fill="#dab6fb"/>
<rect x="118.56" y="94.14" width="4.76" height="2.57" fill="#dfbdfb"/>
<rect x="123.02" y="94.14" width="4.76" height="2.57" fill="#dbb7fb"/>
<rect x="127.49" y="94.14" width="4.76" height="2.57" fill="#debcfb"/>
<rect x="131.95" y="94.14" width="4.76" height="2.57" fill="#dab6fb"/>
<rect x="136.41" y="94.14" width="4.76" height="2.57" fill="#debcfb"/>
<rect x="140.87" y="94.14" width="4.76" height="2.57" fill="#dfbdfb"/>
<rect x="145.34" y="94.14" width="4.76" height="2.57" fill="#dcb8fb"/>
<rect x="29.30" y="96.41" width="4.76" height="2.57" fill="#ff4124"/>
<rect x="33.76" y="96.41" width="4.76" height="2.57" fill="#ff2a14"/>
<rect x="38.23" y="96.41" width="4.76" height="2.57" fill="#ff3e22"/>
<rect x="42.69" y="96.41" width="4.76" height="2.57" fill="#ff5132"/>
<rect x="47.15" y="96.41" width="4.76" height="2.57" fill="#ff3e22"/>
<rect x="51.61" y="96.41" width="4.76" height="2.57" fill="#ff371d"/>
<rect x="56.08" y="96.41" width="4.76" height="2.57" fill="#d8b3fb"/>
<rect x="60.54" y="96.41" width="4.76" height="2.57" fill="#dcb9fb"/>
<rect x="65.00" y="96.41" width="4.76" height="2.57" fill="#dab6fb"/>
<rect x="69.47" y="96.41" width="4.76" height="2.57" fill="#d9b4fb"/>
<rect x="73.93" y="96.41" width="4.76" height="2.57" fill="#dcb9fb"/>
<rect x="78.39" y="96.41" width="4.76" height="2.57" fill="#f2e3fd"/>
<rect x="82.86" y="96.41" width="4.76" height="2.57" fill="#ddbafb"/>
<rect x="87.32" y="96.41" width="4.76" height="2.57" fill="#dab5fb"/>
<rect x="91.78" y="96.41" width="4.76" height="2.57" fill="#debbfb"/>
<rect x="96.24" y="96.41" width="4.76" height="2.57" fill="#d8b3fb"/>
<rect x="100.71" y="96.41" width="4.76" height="2.57" fill="#dbb6fb"/>
<rect x="105.17" y="96.41" width="4.76" height="2.57" fill="#ddb9fb"/>
<rect x="109.63" y="96.41" width="4.76" height="2.57" fill="#d9b4fb"/>
<rect x="114.10" y="96.41" width="4.76" height="2.57" fill="#dbb7fb"/>
<rect x="118.56" y="96.41" width="4.76" height="2.57" fill="#dab5fb"/>
<rect x="123.02" y="96.41" width="4.76" height="2.57" fill="#dab5fb"/>
<rect x="127.49" y="96.41" width="4.76" height="2.57" fill="#dab6fb"/>
<rect x="131.95" y="96.41" width="4.76" height="2.57" fill="#debcfb"/>
<rect x="136.41" y="96.41" width="4.76" height="2.57" fill="#dab6fb"/>
<rect x="140.87" y="96.41" width="4.76" height="2.57" fill="#ddbafb"/>
<rect x="145.34" y="96.41" width="4.76" height="2.57" fill="#d8b2fb"/>
<rect x="29.30" y="98.69" width="4.76" height="2.57" fill="#ff4528"/>
<rect x="33.76" y="98.69" width="4.76" height="2.57" fill="#ff3118"/>
<rect x="38.23" y="98.69" width="4.76" height="2.57" fill="#ff4326"/>
<rect x="42.69" y="98.69" width="4.76" height="2.57" fill="#ff5939"/>
<rect x="47.15" y="98.69" width="4.76" height="2.57" fill="#ff5e3d"/>
<rect x="51.61" y="98.69" width="4.76" height="2.57" fill="#ff4c2d"/>
<rect x="56.08" y="98.69" width="4.76" height="2.57" fill="#dbb7fb"/>
<rect x="60.54" y="98.69" width="4.76" height="2.57" fill="#d7b1fb"/>
<rect x="65.00" y="98.69" width="4.76" height="2.57" fill="#d9b4fb"/>
<rect x="69.47" y="98.69" width="4.76" height="2.57" fill="#d7b2fb"/>
<rect x="73.93" y="98.69" width="4.76" height="2.57" fill="#dab6fb"/>
<rect x="78.39" y="98.69" width="4.76" height="2.57" fill="#d7b1fb"/>
<rect x="82.86" y="98.69" width="4.76" height="2.57" fill="#ddb9fb"/>
<rect x="87.32" y="98.69" width="4.76" height="2.57" fill="#d8b2fb"/>
<rect x="91.78" y="98.69" width="4.76" height="2.57" fill="#debbfb"/>
<rect x="96.24" y="98.69" width="4.76" height="2.57" fill="#dab6fb"/>
<rect x="100.71" y="98.69" width="4.76" height="2.57" fill="#debbfb"/>
<rect x="105.17" y="98.69" width="4.76" height="2.57" fill="#ddbafb"/>
<rect x="109.63" y="98.69" width="4.76" height="2.57" fill="#ddbafb"/>
<rect x="114.10" y="98.69" width="4.76" height="2.57" fill="#dcb9fb"/>
<rect x="118.56" y="98.69" width="4.76" height="2.57" fill="#d9b5fb"/>
<rect x="123.02" y="98.69" width="4.76" height="2.57" fill="#ddbafb"/>
<rect x="127.49" y="98.69" width="4.76" height="2.57" fill="#d8b3fb"/>
<rect x="131.95" y="98.69" width="4.76" height="2.57" fill="#dab6fb"/>
<rect x="136.41" y="98.69" width="4.76" height="2.57" fill="#d7b1fb"/>
<rect x="140.87" y="98.69" width="4.76" height="2.57" fill="#dcb8fb"/>
<rect x="145.34" y="98.69" width="4.76" height="2.57" fill="#d7b0fb"/>
<rect x="29.30" y="100.96" width="4.76" height="2.57" fill="#ff5838"/>
<rect x="33.76" y="100.96" width="4.76" height="2.57" fill="#ff6e4c"/>
<rect x="38.23" y="100.96" width="4.76" height="2.57" fill="#ff603e"/>
<rect x="42.69" y="100.96" width="4.76" height="2.57" fill="#ff6b49"/>
<rect x="47.15" y="100.96" width="4.76" height="2.57" fill="#ff6947"/>
<rect x="51.61" y="100.96" width="4.76" height="2.57" fill="#ff7250"/>
<rect x="56.08" y="100.96" width="4.76" height="2.57" fill="#d9b5fb"/>
<rect x="60.54" y="100.96" width="4.76" height="2.57" fill="#fefefe"/>
<rect x="65.00" y="100.96" width="4.76" height="2.57" fill="#ddbafb"/>
<rect x="69.47" y="100.96" width="4.76" height="2.57" fill="#eed9fc"/>
<rect x="73.93" y="100.96" width="4.76" height="2.57" fill="#ddb9fb"/>
<rect x="78.39" y="100.96" width="4.76" height="2.57" fill="#dab5fb"/>
<rect x="82.86" y="100.96" width="4.76" height="2.57" fill="#dcb9fb"/>
<rect x="87.32" y="100.96" width="4.76" height="2.57" fill="#fffdfd"/>
<rect x="91.78" y="100.96" width="4.76" height="2.57" fill="#dcb8fb"/>
<rect x="96.24" y="100.96" width="4.76" height="2.57" fill="#dab5fb"/>
<rect x="100.71" y="100.96" width="4.76" height="2.57" fill="#c89cfb"/>
<rect x="105.17" y="100.96" width="4.76" height="2.57" fill="#debbfb"/>
<rect x="109.63" y="100.96" width="4.76" height="2.57" fill="#dfbcfb"/>
<rect x="114.10" y="100.96" width="4.76" height="2.57" fill="#ddbafb"/>
<rect x="118.56" y="100.96" width="4.76" height="2.57" fill="#ddbafb"/>
<rect x="123.02" y="100.96" width="4.76" height="2.57" fill="#dfbffb"/>
<rect x="127.49" y="100.96" width="4.76" height="2.57" fill="#e0befb"/>
<rect x="131.95" y="100.96" width="4.76" height="2.57" fill="#dfbcfb"/>
<rect x="136.41" y="100.96" width="4.76" height="2.57" fill="#dab6fb"/>
<rect x="140.87" y="100.96" width="4.76" height="2.57" fill="#ddbafb"/>
<rect x="145.34" y="100.96" width="4.76" height="2.57" fill="#dfbefb"/>
<rect x="29.30" y="103.23" width="4.76" height="2.57" fill="#ff4d2e"/>
<rect x="33.76" y="103.23" width="4.76" height="2.57" fill="#ff4225"/>
<rect x="38.23" y="103.23" width="4.76" height="2.57" fill="#ff3018"/>
<rect x="42.69" y="103.23" width="4.76" height="2.57" fill="#ff5535"/>
<rect x="47.15" y="103.23" width="4.76" height="2.57" fill="#ff391e"/>
<rect x="51.61" y="103.23" width="4.76" height="2.57" fill="#ff5131"/>
<rect x="56.08" y="103.23" width="4.76" height="2.57" fill="#dfbefb"/>
<rect x="60.54" y="103.23" width="4.76" height="2.57" fill="#ddbafb"/>
<rect x="65.00" y="103.23" width="4.76" height="2.57" fill="#dbb7fb"/>
<rect x="69.47" y="103.23" width="4.76" height="2.57" fill="#ddbafb"/>
<rect x="73.93" y="103.23" width="4.76" height="2.57" fill="#d9b5fb"/>
<rect x="78.39" y="103.23" width="4.76" height="2.57" fill="#dab6fb"/>
<rect x="82.86" y="103.23" width="4.76" height="2.57" fill="#debcfb"/>
<rect x="87.32" y="103.23" width="4.76" height="2.57" fill="#dab6fb"/>
<rect x="91.78" y="103.23" width="4.76" height="2.57" fill="#dab6fb"/>
<rect x="96.24" y="103.23" width="4.76" height="2.57" fill="#debcfb"/>
<rect x="100.71" y="103.23" width="4.76" height="2.57" fill="#dfbefb"/>
<rect x="105.17" y="103.23" width="4.76" height="2.57" fill="#debbfb"/>
<rect x="109.63" y="103.23" width="4.76" height="2.57" fill="#dab5fb"/>
<rect x="114.10" y="103.23" width="4.76" height="2.57" fill="#debbfb"/>
<rect x="118.56" y="103.23" width="4.76" height="2.57" fill="#dfbdfb"/>
<rect x="123.02" y="103.23" width="4.76" height="2.57" fill="#e0c0fb"/>
<rect x="127.49" y="103.23" width="4.76" height="2.57" fill="#dcb8fb"/>
<rect x="131.95" y="103.23" width="4.76" height="2.57" fill="#ddb9fb"/>
<rect x="136.41" y="103.23" width="4.76" height="2.57" fill="#c89cfb"/>
<rect x="140.87" y="103.23" width="4.76" height="2.57" fill="#e0befb"/>
<rect x="145.34" y="103.23" width="4.76" height="2.57" fill="#debcfb"/>
<rect x="29.30" y="105.50" width="4.76" height="2.57" fill="#ff5030"/>
<rect x="33.76" y="105.50" width="4.76" height="2.57" fill="#ff5a39"/>
<rect x="38.23" y="105.50" width="4.76" height="2.57" fill="#ff5938"/>
<rect x="42.69" y="105.50" width="4.76" height="2.57" fill="#ff603e"/>
<rect x="47.15" y="105.50" width="4.76" height="2.57" fill="#ff5131"/>
<rect x="51.61" y="105.50" width="4.76" height="2.57" fill="#ff5736"/>
<rect x="56.08" y="105.50" width="4.76" height="2.57" fill="#dcb8fb"/>
<rect x="60.54" y="105.50" width="4.76" height="2.57" fill="#d9b3fb"/>
<rect x="65.00" y="105.50" width="4.76" height="2.57" fill="#efdcfc"/>
<rect x="69.47" y="105.50" width="4.76" height="2.57" fill="#dab6fb"/>
<rect x="73.93" y="105.50" width="4.76" height="2.57" fill="#dab6fb"/>
<rect x="78.39" y="105.50" width="4.76" height="2.57" fill="#dcb9fb"/>
<rect x="82.86" y="105.50" width="4.76" height="2.57" fill="#d9b4fb"/>
<rect x="87.32" y="105.50" width="4.76" height="2.57" fill="#dbb7fb"/>
<rect x="91.78" y="105.50" width="4.76" height="2.57" fill="#dfbdfb"/>
<rect x="96.24" y="105.50" width="4.76" height="2.57" fill="#d9b4fb"/>
<rect x="100.71" y="105.50" width="4.76" height="2.57" fill="#ddb9fb"/>
<rect x="105.17" y="105.50" width="4.76" height="2.57" fill="#debbfb"/>
<rect x="109.63" y="105.50" width="4.76" height="2.57" fill="#f6ebfd"/>
<rect x="114.10" y="105.50" width="4.76" height="2.57" fill="#dcb8fb"/>
<rect x="118.56" y="105.50" width="4.76" height="2.57" fill="#ddb9fb"/>
<rect x="123.02" y="105.50" width="4.76" height="2.57" fill="#dfbdfb"/>
<rect x="127.49" y="105.50" width="4.76" height="2.57" fill="#dab5fb"/>
<rect x="131.95" y="105.50" width="4.76" height="2.57" fill="#d8b2fb"/>
<rect x="136.41" y="105.50" width="4.76" height="2.57" fill="#dbb7fb"/>
<rect x="140.87" y="105.50" width="4.76" height="2.57" fill="#d8b3fb"/>
<rect x="145.34" y="105.50" width="4.76" height="2.57" fill="#d8b2fb"/>
<rect x="29.30" y="107.77" width="4.76" height="2.57" fill="#ff6746"/>
<rect x="33.76" y="107.77" width="4.76" height="2.57" fill="#ff5b3a"/>
<rect x="38.23" y="107.77" width="4.76" height="2.57" fill="#ff5e3d"/>
<rect x="42.69" y="107.77" width="4.76" height="2.57" fill="#ff6443"/>
<rect x="47.15" y="107.77" width="4.76" height="2.57" fill="#ff5f3e"/>
<rect x="51.61" y="107.77" width="4.76" height="2.57" fill="#ff7250"/>
<rect x="56.08" y="107.77" width="4.76" height="2.57" fill="#ddbafb"/>
<rect x="60.54" y="107.77" width="4.76" height="2.57" fill="#dbb7fb"/>
<rect x="65.00" y="107.77" width="4.76" height="2.57" fill="#dfbffb"/>
<rect x="69.47" y="107.77" width="4.76" height="2.57" fill="#dab6fb"/>
<rect x="73.93" y="107.77" width="4.76" height="2.57" fill="#dfbffb"/>
<rect x="78.39" y="107.77" width="4.76" height="2.57" fill="#dfbffb"/>
<rect x="82.86" y="107.77" width="4.76" height="2.57" fill="#dcb9fb"/>
<rect x="87.32" y="107.77" width="4.76" height="2.57" fill="#c89cfb"/>
<rect x="91.78" y="107.77" width="4.76" height="2.57" fill="#ddbafb"/>
<rect x="96.24" y="107.77" width="4.76" height="2.57" fill="#dfbefb"/>
<rect x="100.71" y="107.77" width="4.76" height="2.57" fill="#dfbefb"/>
<rect x="105.17" y="107.77" width="4.76" height="2.57" fill="#dfbcfb"/>
<rect x="109.63" y="107.77" width="4.76" height="2.57" fill="#dfbffb"/>
<rect x="114.10" y="107.77" width="4.76" height="2.57" fill="#dcb9fb"/>
<rect x="118.56" y="107.77" width="4.76" height="2.57" fill="#e1c1fb"/>
<rect x="123.02" y="107.77" width="4.76" height="2.57" fill="#f2e2fd"/>
<rect x="127.49" y="107.77" width="4.76" height="2.57" fill="#dcb9fb"/>
<rect x="131.95" y="107.77" width="4.76" height="2.57" fill="#e1c1fb"/>
<rect x="136.41" y="107.77" width="4.76" height="2.57" fill="#ddbafb"/>
<rect x="140.87" y="107.77" width="4.76" height="2.57" fill="#ddbafb"/>
<rect x="145.34" y="107.77" width="4.76" height="2.57" fill="#e0c0fb"/>
<rect x="29.30" y="110.04" width="4.76" height="2.57" fill="#ff351b"/>
<rect x="33.76" y="110.04" width="4.76" height="2.57" fill="#ff4a2b"/>
<rect x="38.23" y="110.04" width="4.76" height="2.57" fill="#ff3c20"/>
<rect x="42.69" y="110.04" width="4.76" height="2.57" fill="#ff4e2f"/>
<rect x="47.15" y="110.04" width="4.76" height="2.57" fill="#ff482a"/>
<rect x="51.61" y="110.04" width="4.76" height="2.57" fill="#ff5736"/>
<rect x="56.08" y="110.04" width="4.76" height="2.57" fill="#debbfb"/>
<rect x="60.54" y="110.04" width="4.76" height="2.57" fill="#dbb7fb"/>
<rect x="65.00" y="110.04" width="4.76" height="2.57" fill="#ddbafb"/>
<rect x="69.47" y="110.04" width="4.76" height="2.57" fill="#dfbefb"/>
<rect x="73.93" y="110.04" width="4.76" height="2.57" fill="#d9b3fb"/>
<rect x="78.39" y="110.04" width="4.76" height="2.57" fill="#e0befb"/>
<rect x="82.86" y="110.04" width="4.76" height="2.57" fill="#efddfc"/>
<rect x="87.32" y="110.04" width="4.76" height="2.57" fill="#debbfb"/>
<rect x="91.78" y="110.04" width="4.76" height="2.57" fill="#debbfb"/>
<rect x="96.24" y="110.04" width="4.76" height="2.57" fill="#d9b4fb"/>
<rect x="100.71" y="110.04" width="4.76" height="2.57" fill="#dbb7fb"/>
<rect x="105.17" y="110.04" width="4.76" height="2.57" fill="#dfbdfb"/>
<rect x="109.63" y="110.04" width="4.76" height="2.57" fill="#d9b4fb"/>
<rect x="114.10" y="110.04" width="4.76" height="2.57" fill="#e0befb"/>
<rect x="118.56" y="110.04" width="4.76" height="2.57" fill="#d9b4fb"/>
<rect x="123.02" y="110.04" width="4.76" height="2.57" fill="#c89cfb"/>
<rect x="127.49" y="110.04" width="4.76" height="2.57" fill="#dfbdfb"/>
<rect x="131.95" y="110.04" width="4.76" height="2.57" fill="#ddbafb"/>
<rect x="136.41" y="110.04" width="4.76" height="2.57" fill="#ddbafb"/>
<rect x="140.87" y="110.04" width="4.76" height="2.57" fill="#d9b4fb"/>
<rect x="145.34" y="110.04" width="4.76" height="2.57" fill="#debcfb"/>
<rect x="29.30" y="112.31" width="4.76" height="2.57" fill="#ff6241"/>
<rect x="33.76" y="112.31" width="4.76" height="2.57" fill="#ff5b3a"/>
<rect x="38.23" y="112.31" width="4.76" height="2.57" fill="#ff5a3a"/>
<rect x="42.69" y="112.31" width="4.76" height="2.57" fill="#ff5737"/>
<rect x="47.15" y="112.31" width="4.76" height="2.57" fill="#ff6241"/>
<rect x="51.61" y="112.31" width="4.76" height="2.57" fill="#ff6342"/>
<rect x="56.08" y="112.31" width="4.76" height="2.57" fill="#ddbafb"/>
<rect x="60.54" y="112.31" width="4.76" height="2.57" fill="#dcb9fb"/>
<rect x="65.00" y="112.31" width="4.76" height="2.57" fill="#d6affb"/>
<rect x="69.47" y="112.31" width="4.76" height="2.57" fill="#d9b4fb"/>
<rect x="73.93" y="112.31" width="4.76" height="2.57" fill="#d8b3fb"/>
<rect x="78.39" y="112.31" width="4.76" height="2.57" fill="#dab5fb"/>
<rect x="82.86" y="112.31" width="4.76" height="2.57" fill="#dcb9fb"/>
<rect x="87.32" y="112.31" width="4.76" height="2.57" fill="#dcb8fb"/>
<rect x="91.78" y="112.31" width="4.76" height="2.57" fill="#d5affb"/>
<rect x="96.24" y="112.31" width="4.76" height="2.57" fill="#dbb8fb"/>
<rect x="100.71" y="112.31" width="4.76" height="2.57" fill="#d5affb"/>
<rect x="105.17" y="112.31" width="4.76" height="2.57" fill="#d9b4fb"/>
<rect x="109.63" y="112.31" width="4.76" height="2.57" fill="#d7b1fb"/>
<rect x="114.10" y="112.31" width="4.76" height="2.57" fill="#d8b3fb"/>
<rect x="118.56" y="112.31" width="4.76" height="2.57" fill="#d7b2fb"/>
<rect x="123.02" y="112.31" width="4.76" height="2.57" fill="#d8b2fb"/>
<rect x="127.49" y="112.31" width="4.76" height="2.57" fill="#dbb7fb"/>
<rect x="131.95" y="112.31" width="4.76" height="2.57" fill="#d6b0fb"/>
<rect x="136.41" y="112.31" width="4.76" height="2.57" fill="#d6b0fb"/>
<rect x="140.87" y="112.31" width="4.76" height="2.57" fill="#dbb7fb"/>
<rect x="145.34" y="112.31" width="4.76" height="2.57" fill="#dab6fb"/>
<rect x="29.30" y="114.59" width="4.76" height="2.57" fill="#ff4729"/>
<rect x="33.76" y="114.59" width="4.76" height="2.57" fill="#ff6240"/>
<rect x="38.23" y="114.59" width="4.76" height="2.57" fill="#ff4729"/>
<rect x="42.69" y="114.59" width="4.76" height="2.57" fill="#ff6d4b"/>
<rect x="47.15" y="114.59" width="4.76" height="2.57" fill="#ff6846"/>
<rect x="51.61" y="114.59" width="4.76" height="2.57" fill="#ff6645"/>
<rect x="56.08" y="114.59" width="4.76" height="2.57" fill="#ddbafb"/>
<rect x="60.54" y="114.59" width="4.76" height="2.57" fill="#d9b4fb"/>
<rect x="65.00" y="114.59" width="4.76" height="2.57" fill="#d8b2fb"/>
<rect x="69.47" y="114.59" width="4.76" height="2.57" fill="#dab6fb"/>
<rect x="73.93" y="114.59" width="4.76" height="2.57" fill="#dcb8fb"/>
<rect x="78.39" y="114.59" width="4.76" height="2.57" fill="#d9b4fb"/>
<rect x="82.86" y="114.59" width="4.76" height="2.57" fill="#d7b2fb"/>
<rect x="87.32" y="114.59" width="4.76" height="2.57" fill="#dbb7fb"/>
<rect x="91.78" y="114.59" width="4.76" height="2.57" fill="#d7b2fb"/>
<rect x="96.24" y="114.59" width="4.76" height="2.57" fill="#dcb9fb"/>
<rect x="100.71" y="114.59" width="4.76" height="2.57" fill="#d7b1fb"/>
<rect x="105.17" y="114.59" width="4.76" height="2.57" fill="#ddbafb"/>
<rect x="109.63" y="114.59" width="4.76" height="2.57" fill="#d8b2fb"/>
<rect x="114.10" y="114.59" width="4.76" height="2.57" fill="#dcb8fb"/>
<rect x="118.56" y="114.59" width="4.76" height="2.57" fill="#d7b2fb"/>
<rect x="123.02" y="114.59" width="4.76" height="2.57" fill="#d8b3fb"/>
<rect x="127.49" y="114.59" width="4.76" height="2.57" fill="#dab6fb"/>
<rect x="131.95" y="114.59" width="4.76" height="2.57" fill="#d9b4fb"/>
<rect x="136.41" y="114.59" width="4.76" height="2.57" fill="#debbfb"/>
<rect x="140.87" y="114.59" width="4.76" height="2.57" fill="#d7b1fb"/>
<rect x="145.34" y="114.59" width="4.76" height="2.57" fill="#d7b1fb"/>
<rect x="29.30" y="116.86" width="4.76" height="2.57" fill="#ff391e"/>
<rect x="33.76" y="116.86" width="4.76" height="2.57" fill="#ff4528"/>
<rect x="38.23" y="116.86" width="4.76" height="2.57" fill="#ff4e2f"/>
<rect x="42.69" y="116.86" width="4.76" height="2.57" fill="#ff4a2c"/>
<rect x="47.15" y="116.86" width="4.76" height="2.57" fill="#ff5c3b"/>
<rect x="51.61" y="116.86" width="4.76" height="2.57" fill="#ff5938"/>
<rect x="56.08" y="116.86" width="4.76" height="2.57" fill="#c89cfb"/>
<rect x="60.54" y="116.86" width="4.76" height="2.57" fill="#debbfb"/>
<rect x="65.00" y="116.86" width="4.76" height="2.57" fill="#dfbefb"/>
<rect x="69.47" y="116.86" width="4.76" height="2.57" fill="#e0befb"/>
<rect x="73.93" y="116.86" width="4.76" height="2.57" fill="#dcb8fb"/>
<rect x="78.39" y="116.86" width="4.76" height="2.57" fill="#debbfb"/>
<rect x="82.86" y="116.86" width="4.76" height="2.57" fill="#e1c1fb"/>
<rect x="87.32" y="116.86" width="4.76" height="2.57" fill="#dfbdfb"/>
<rect x="91.78" y="116.86" width="4.76" height="2.57" fill="#debbfb"/>
<rect x="96.24" y="116.86" width="4.76" height="2.57" fill="#dfbffb"/>
<rect x="100.71" y="116.86" width="4.76" height="2.57" fill="#e0bffb"/>
<rect x="105.17" y="116.86" width="4.76" height="2.57" fill="#e0c0fb"/>
<rect x="109.63" y="116.86" width="4.76" height="2.57" fill="#dfbefb"/>
<rect x="114.10" y="116.86" width="4.76" height="2.57" fill="#ddbafb"/>
<rect x="118.56" y="116.86" width="4.76" height="2.57" fill="#dbb8fb"/>
<rect x="123.02" y="116.86" width="4.76" height="2.57" fill="#e0bffb"/>
<rect x="127.49" y="116.86" width="4.76" height="2.57" fill="#e0befb"/>
<rect x="131.95" y="116.86" width="4.76" height="2.57" fill="#debbfb"/>
<rect x="136.41" y="116.86" width="4.76" height="2.57" fill="#dfbefb"/>
<rect x="140.87" y="116.86" width="4.76" height="2.57" fill="#dfbefb"/>
<rect x="145.34" y="116.86" width="4.76" height="2.57" fill="#dcb9fb"/>
<rect x="29.30" y="119.13" width="4.76" height="2.57" fill="#ff5535"/>
<rect x="33.76" y="119.13" width="4.76" height="2.57" fill="#ff4427"/>
<rect x="38.23" y="119.13" width="4.76" height="2.57" fill="#ff6342"/>
<rect x="42.69" y="119.13" width="4.76" height="2.57" fill="#ff5e3d"/>
<rect x="47.15" y="119.13" width="4.76" height="2.57" fill="#ff6948"/>
<rect x="51.61" y="119.13" width="4.76" height="2.57" fill="#ff5736"/>
<rect x="56.08" y="119.13" width="4.76" height="2.57" fill="#dfbffb"/>
<rect x="60.54" y="119.13" width="4.76" height="2.57" fill="#dab5fb"/>
<rect x="65.00" y="119.13" width="4.76" height="2.57" fill="#ddbafb"/>
<rect x="69.47" y="119.13" width="4.76" height="2.57" fill="#ddbafb"/>
<rect x="73.93" y="119.13" width="4.76" height="2.57" fill="#e0befb"/>
<rect x="78.39" y="119.13" width="4.76" height="2.57" fill="#dcb9fb"/>
<rect x="82.86" y="119.13" width="4.76" height="2.57" fill="#dbb7fb"/>
<rect x="87.32" y="119.13" width="4.76" height="2.57" fill="#dcb9fb"/>
<rect x="91.78" y="119.13" width="4.76" height="2.57" fill="#dab6fb"/>
<rect x="96.24" y="119.13" width="4.76" height="2.57" fill="#dcb8fb"/>
<rect x="100.71" y="119.13" width="4.76" height="2.57" fill="#dbb7fb"/>
<rect x="105.17" y="119.13" width="4.76" height="2.57" fill="#d9b4fb"/>
<rect x="109.63" y="119.13" width="4.76" height="2.57" fill="#dcb9fb"/>
<rect x="114.10" y="119.13" width="4.76" height="2.57" fill="#dcb8fb"/>
<rect x="118.56" y="119.13" width="4.76" height="2.57" fill="#dbb7fb"/>
<rect x="123.02" y="119.13" width="4.76" height="2.57" fill="#dfbffb"/>
<rect x="127.49" y="119.13" width="4.76" height="2.57" fill="#dbb7fb"/>
<rect x="131.95" y="119.13" width="4.76" height="2.57" fill="#dcb9fb"/>
<rect x="136.41" y="119.13" width="4.76" height="2.57" fill="#dab6fb"/>
<rect x="140.87" y="119.13" width="4.76" height="2.57" fill="#dfbdfb"/>
<rect x="145.34" y="119.13" width="4.76" height="2.57" fill="#ddb9fb"/>
<rect x="29.30" y="121.40" width="4.76" height="2.57" fill="#ff4024"/>
<rect x="33.76" y="121.40" width="4.76" height="2.57" fill="#ff341a"/>
<rect x="38.23" y="121.40" width="4.76" height="2.57" fill="#ff2b14"/>
<rect x="42.69" y="121.40" width="4.76" height="2.57" fill="#ff3b20"/>
<rect x="47.15" y="121.40" width="4.76" height="2.57" fill="#ff492a"/>
<rect x="51.61" y="121.40" width="4.76" height="2.57" fill="#ff4f2f"/>
<rect x="56.08" y="121.40" width="4.76" height="2.57" fill="#d9b4fb"/>
<rect x="60.54" y="121.40" width="4.76" height="2.57" fill="#dbb7fb"/>
<rect x="65.00" y="121.40" width="4.76" height="2.57" fill="#dbb8fb"/>
<rect x="69.47" y="121.40" width="4.76" height="2.57" fill="#d8b2fb"/>
<rect x="73.93" y="121.40" width="4.76" height="2.57" fill="#d8b3fb"/>
<rect x="78.39" y="121.40" width="4.76" height="2.57" fill="#d5aefb"/>
<rect x="82.86" y="121.40" width="4.76" height="2.57" fill="#d7b1fb"/>
<rect x="87.32" y="121.40" width="4.76" height="2.57" fill="#d7b1fb"/>
<rect x="91.78" y="121.40" width="4.76" height="2.57" fill="#d8b3fb"/>
<rect x="96.24" y="121.40" width="4.76" height="2.57" fill="#dab5fb"/>
<rect x="100.71" y="121.40" width="4.76" height="2.57" fill="#dcb8fb"/>
<rect x="105.17" y="121.40" width="4.76" height="2.57" fill="#d5aefb"/>
<rect x="109.63" y="121.40" width="4.76" height="2.57" fill="#dcb8fb"/>
<rect x="114.10" y="121.40" width="4.76" height="2.57" fill="#d6affb"/>
<rect x="118.56" y="121.40" width="4.76" height="2.57" fill="#efdcfc"/>
<rect x="123.02" y="121.40" width="4.76" height="2.57" fill="#dcb9fb"/>
<rect x="127.49" y="121.40" width="4.76" height="2.57" fill="#d7b1fb"/>
<rect x="131.95" y="121.40" width="4.76" height="2.57" fill="#d6affb"/>
<rect x="136.41" y="121.40" width="4.76" height="2.57" fill="#dbb7fb"/>
<rect x="140.87" y="121.40" width="4.76" height="2.57" fill="#d6b0fb"/>
<rect x="145.34" y="121.40" width="4.76" height="2.57" fill="#dbb7fb"/>
<rect x="29.30" y="123.67" width="4.76" height="2.57" fill="#ff4124"/>
<rect x="33.76" y="123.67" width="4.76" height="2.57" fill="#ff4528"/>
<rect x="38.23" y="123.67" width="4.76" height="2.57" fill="#ff3c21"/>
<rect x="42.69" y="123.67" width="4.76" height="2.57" fill="#ff4d2e"/>
<rect x="47.15" y="123.67" width="4.76" height="2.57" fill="#ff4b2d"/>
<rect x="51.61" y="123.67" width="4.76" height="2.57" fill="#ff603f"/>
<rect x="56.08" y="123.67" width="4.76" height="2.57" fill="#dfbdfb"/>
<rect x="60.54" y="123.67" width="4.76" height="2.57" fill="#dfbefb"/>
<rect x="65.00" y="123.67" width="4.76" height="2.57" fill="#e0c0fb"/>
<rect x="69.47" y="123.67" width="4.76" height="2.57" fill="#dcb8fb"/>
<rect x="73.93" y="123.67" width="4.76" height="2.57" fill="#dbb7fb"/>
<rect x="78.39" y="123.67" width="4.76" height="2.57" fill="#dab6fb"/>
<rect x="82.86" y="123.67" width="4.76" height="2.57" fill="#dbb7fb"/>
<rect x="87.32" y="123.67" width="4.76" height="2.57" fill="#debbfb"/>
<rect x="91.78" y="123.67" width="4.76" height="2.57" fill="#f8effd"/>
<rect x="96.24" y="123.67" width="4.76" height="2.57" fill="#debbfb"/>
<rect x="100.71" y="123.67" width="4.76" height="2.57" fill="#dfbdfb"/>
<rect x="105.17" y="123.67" width="4.76" height="2.57" fill="#ddbafb"/>
<rect x="109.63" y="123.67" width="4.76" height="2.57" fill="#e0c0fb"/>
<rect x="114.10" y="123.67" width="4.76" height="2.57" fill="#dfbdfb"/>
<rect x="118.56" y="123.67" width="4.76" height="2.57" fill="#dab6fb"/>
<rect x="123.02" y="123.67" width="4.76" height="2.57" fill="#dfbdfb"/>
<rect x="127.49" y="123.67" width="4.76" height="2.57" fill="#ddb9fb"/>
<rect x="131.95" y="123.67" width="4.76" height="2.57" fill="#debbfb"/>
<rect x="136.41" y="123.67" width="4.76" height="2.57" fill="#c89cfb"/>
<rect x="140.87" y="123.67" width="4.76" height="2.57" fill="#e0befb"/>
<rect x="145.34" y="123.67" width="4.76" height="2.57" fill="#ddb9fb"/>
<rect x="29.30" y="125.94" width="4.76" height="2.57" fill="#ff5031"/>
<rect x="33.76" y="125.94" width="4.76" height="2.57" fill="#ff482a"/>
<rect x="38.23" y="125.94" width="4.76" height="2.57" fill="#ff5b3a"/>
<rect x="42.69" y="125.94" width="4.76" height="2.57" fill="#ff5e3d"/>
<rect x="47.15" y="125.94" width="4.76" height="2.57" fill="#ff5e3d"/>
<rect x="51.61" y="125.94" width="4.76" height="2.57" fill="#ff5a3a"/>
<rect x="56.08" y="125.94" width="4.76" height="2.57" fill="#dcb9fb"/>
<rect x="60.54" y="125.94" width="4.76" height="2.57" fill="#dcb9fb"/>
<rect x="65.00" y="125.94" width="4.76" height="2.57" fill="#dab5fb"/>
<rect x="69.47" y="125.94" width="4.76" height="2.57" fill="#dab5fb"/>
<rect x="73.93" y="125.94" width="4.76" height="2.57" fill="#dbb7fb"/>
<rect x="78.39" y="125.94" width="4.76" height="2.57" fill="#d8b3fb"/>
<rect x="82.86" y="125.94" width="4.76" height="2.57" fill="#d8b3fb"/>
<rect x="87.32" y="125.94" width="4.76" height="2.57" fill="#dbb7fb"/>
<rect x="91.78" y="125.94" width="4.76" height="2.57" fill="#d6b0fb"/>
<rect x="96.24" y="125.94" width="4.76" height="2.57" fill="#ddbafb"/>
<rect x="100.71" y="125.94" width="4.76" height="2.57" fill="#d6b0fb"/>
<rect x="105.17" y="125.94" width="4.76" height="2.57" fill="#d6affb"/>
<rect x="109.63" y="125.94" width="4.76" height="2.57" fill="#ddbafb"/>
<rect x="114.10" y="125.94" width="4.76" height="2.57" fill="#dbb7fb"/>
<rect x="118.56" y="125.94" width="4.76" height="2.57" fill="#ddbafb"/>
<rect x="123.02" y="125.94" width="4.76" height="2.57" fill="#dbb6fb"/>
<rect x="127.49" y="125.94" width="4.76" height="2.57" fill="#dbb7fb"/>
<rect x="131.95" y="125.94" width="4.76" height="2.57" fill="#dbb7fb"/>
<rect x="136.41" y="125.94" width="4.76" height="2.57" fill="#dbb7fb"/>
<rect x="140.87" y="125.94" width="4.76" height="2.57" fill="#dcb8fb"/>
<rect x="145.34" y="125.94" width="4.76" height="2.57" fill="#d7b1fb"/>
<rect x="29.30" y="128.21" width="4.76" height="2.57" fill="#ff361c"/>
<rect x="33.76" y="128.21" width="4.76" height="2.57" fill="#ff4225"/>
<rect x="38.23" y="128.21" width="4.76" height="2.57" fill="#ff2e16"/>
<rect x="42.69" y="128.21" width="4.76" height="2.57" fill="#ff3f22"/>
<rect x="47.15" y="128.21" width="4.76" height="2.57" fill="#ff4829"/>
<rect x="51.61" y="128.21" width="4.76" height="2.57" fill="#ff5232"/>
<rect x="56.08" y="128.21" width="4.76" height="2.57" fill="#dbb8fb"/>
<rect x="60.54" y="128.21" width="4.76" height="2.57" fill="#dcb8fb"/>
<rect x="65.00" y="128.21" width="4.76" height="2.57" fill="#debbfb"/>
<rect x="69.47" y="128.21" width="4.76" height="2.57" fill="#d9b5fb"/>
<rect x="73.93" y="128.21" width="4.76" height="2.57" fill="#d9b5fb"/>
<rect x="78.39" y="128.21" width="4.76" height="2.57" fill="#dfbdfb"/>
<rect x="82.86" y="128.21" width="4.76" height="2.57" fill="#dfbffb"/>
<rect x="87.32" y="128.21" width="4.76" height="2.57" fill="#d9b4fb"/>
<rect x="91.78" y="128.21" width="4.76" height="2.57" fill="#debbfb"/>
<rect x="96.24" y="128.21" width="4.76" height="2.57" fill="#e0bffb"/>
<rect x="100.71" y="128.21" width="4.76" height="2.57" fill="#dcb9fb"/>
<rect x="105.17" y="128.21" width="4.76" height="2.57" fill="#debbfb"/>
<rect x="109.63" y="128.21" width="4.76" height="2.57" fill="#c89cfb"/>
<rect x="114.10" y="128.21" width="4.76" height="2.57" fill="#d9b4fb"/>
<rect x="118.56" y="128.21" width="4.76" height="2.57" fill="#dab5fb"/>
<rect x="123.02" y="128.21" width="4.76" height="2.57" fill="#dab5fb"/>
<rect x="127.49" y="128.21" width="4.76" height="2.57" fill="#c89cfb"/>
<rect x="131.95" y="128.21" width="4.76" height="2.57" fill="#dfbcfb"/>
<rect x="136.41" y="128.21" width="4.76" height="2.57" fill="#dfbcfb"/>
<rect x="140.87" y="128.21" width="4.76" height="2.57" fill="#d9b5fb"/>
<rect x="145.34" y="128.21" width="4.76" height="2.57" fill="#dfbcfb"/>
<rect x="29.30" y="130.49" width="4.76" height="2.57" fill="#ff5d3c"/>
<rect x="33.76" y="130.49" width="4.76" height="2.57" fill="#ff5a3a"/>
<rect x="38.23" y="130.49" width="4.76" height="2.57" fill="#ff6241"/>
<rect x="42.69" y="130.49" width="4.76" height="2.57" fill="#ff5e3d"/>
<rect x="47.15" y="130.49" width="4.76" height="2.57" fill="#ff7150"/>
<rect x="51.61" y="130.49" width="4.76" height="2.57" fill="#ff5d3c"/>
<rect x="56.08" y="130.49" width="4.76" height="2.57" fill="#efdcfc"/>
<rect x="60.54" y="130.49" width="4.76" height="2.57" fill="#debbfb"/>
<rect x="65.00" y="130.49" width="4.76" height="2.57" fill="#d9b4fb"/>
<rect x="69.47" y="130.49" width="4.76" height="2.57" fill="#debcfb"/>
<rect x="73.93" y="130.49" width="4.76" height="2.57" fill="#dfbdfb"/>
<rect x="78.39" y="130.49" width="4.76" height="2.57" fill="#d9b4fb"/>
<rect x="82.86" y="130.49" width="4.76" height="2.57" fill="#ddbafb"/>
<rect x="87.32" y="130.49" width="4.76" height="2.57" fill="#debbfb"/>
<rect x="91.78" y="130.49" width="4.76" height="2.57" fill="#dfbdfb"/>
<rect x="96.24" y="130.49" width="4.76" height="2.57" fill="#debbfb"/>
<rect x="100.71" y="130.49" width="4.76" height="2.57" fill="#dcb8fb"/>
<rect x="105.17" y="130.49" width="4.76" height="2.57" fill="#dfbdfb"/>
<rect x="109.63" y="130.49" width="4.76" height="2.57" fill="#dfbdfb"/>
<rect x="114.10" y="130.49" width="4.76" height="2.57" fill="#dbb7fb"/>
<rect x="118.56" y="130.49" width="4.76" height="2.57" fill="#dfbffb"/>
<rect x="123.02" y="130.49" width="4.76" height="2.57" fill="#dfbdfb"/>
<rect x="127.49" y="130.49" width="4.76" height="2.57" fill="#ddbbfb"/>
<rect x="131.95" y="130.49" width="4.76" height="2.57" fill="#dfbdfb"/>
<rect x="136.41" y="130.49" width="4.76" height="2.57" fill="#dbb7fb"/>
<rect x="140.87" y="130.49" width="4.76" height="2.57" fill="#e0befb"/>
<rect x="145.34" y="130.49" width="4.76" height="2.57" fill="#debbfb"/>
<rect x="29.30" y="132.76" width="4.76" height="2.57" fill="#ff4a2c"/>
<rect x="33.76" y="132.76" width="4.76" height="2.57" fill="#ff5434"/>
<rect x="38.23" y="132.76" width="4.76" height="2.57" fill="#ff4b2c"/>
<rect x="42.69" y="132.76" width="4.76" height="2.57" fill="#ff5131"/>
<rect x="47.15" y="132.76" width="4.76" height="2.57" fill="#ff4b2d"/>
<rect x="51.61" y="132.76" width="4.76" height="2.57" fill="#ff4326"/>
<rect x="56.08" y="132.76" width="4.76" height="2.57" fill="#e0c0fb"/>
<rect x="60.54" y="132.76" width="4.76" height="2.57" fill="#dfbffb"/>
<rect x="65.00" y="132.76" width="4.76" height="2.57" fill="#e0bffb"/>
<rect x="69.47" y="132.76" width="4.76" height="2.57" fill="#dcb9fb"/>
<rect x="73.93" y="132.76" width="4.76" height="2.57" fill="#dfbffb"/>
<rect x="78.39" y="132.76" width="4.76" height="2.57" fill="#e0c0fb"/>
<rect x="82.86" y="132.76" width="4.76" height="2.57" fill="#dbb6fb"/>
<rect x="87.32" y="132.76" width="4.76" height="2.57" fill="#dfbffb"/>
<rect x="91.78" y="132.76" width="4.76" height="2.57" fill="#dfbefb"/>
<rect x="96.24" y="132.76" width="4.76" height="2.57" fill="#dcb8fb"/>
<rect x="100.71" y="132.76" width="4.76" height="2.57" fill="#dfbdfb"/>
<rect x="105.17" y="132.76" width="4.76" height="2.57" fill="#dcb8fb"/>
<rect x="109.63" y="132.76" width="4.76" height="2.57" fill="#dfbefb"/>
<rect x="114.10" y="132.76" width="4.76" height="2.57" fill="#debbfb"/>
<rect x="118.56" y="132.76" width="4.76" height="2.57" fill="#dfbffb"/>
<rect x="123.02" y="132.76" width="4.76" height="2.57" fill="#dcb8fb"/>
<rect x="127.49" y="132.76" width="4.76" height="2.57" fill="#e0c0fb"/>
<rect x="131.95" y="132.76" width="4.76" height="2.57" fill="#debbfb"/>
<rect x="136.41" y="132.76" width="4.76" height="2.57" fill="#dfbcfb"/>
<rect x="140.87" y="132.76" width="4.76" height="2.57" fill="#dbb8fb"/>
<rect x="145.34" y="132.76" width="4.76" height="2.57" fill="#dfbefb"/>
<rect x="29.30" y="135.03" width="4.76" height="2.57" fill="#ff5434"/>
<rect x="33.76" y="135.03" width="4.76" height="2.57" fill="#ff5f3e"/>
<rect x="38.23" y="135.03" width="4.76" height="2.57" fill="#ff6241"/>
<rect x="42.69" y="135.03" width="4.76" height="2.57" fill="#ff4f2f"/>
<rect x="47.15" y="135.03" width="4.76" height="2.57" fill="#ff6341"/>
<rect x="51.61" y="135.03" width="4.76" height="2.57" fill="#ff6a49"/>
<rect x="56.08" y="135.03" width="4.76" height="2.57" fill="#dcb9fb"/>
<rect x="60.54" y="135.03" width="4.76" height="2.57" fill="#d9b3fb"/>
<rect x="65.00" y="135.03" width="4.76" height="2.57" fill="#dab6fb"/>
<rect x="69.47" y="135.03" width="4.76" height="2.57" fill="#d8b2fb"/>
<rect x="73.93" y="135.03" width="4.76" height="2.57" fill="#dfbdfb"/>
<rect x="78.39" y="135.03" width="4.76" height="2.57" fill="#dbb7fb"/>
<rect x="82.86" y="135.03" width="4.76" height="2.57" fill="#d9b5fb"/>
<rect x="87.32" y="135.03" width="4.76" height="2.57" fill="#dbb7fb"/>
<rect x="91.78" y="135.03" width="4.76" height="2.57" fill="#ddbafb"/>
<rect x="96.24" y="135.03" width="4.76" height="2.57" fill="#dfbdfb"/>
<rect x="100.71" y="135.03" width="4.76" height="2.57" fill="#d8b2fb"/>
<rect x="105.17" y="135.03" width="4.76" height="2.57" fill="#d9b4fb"/>
<rect x="109.63" y="135.03" width="4.76" height="2.57" fill="#d8b2fb"/>
<rect x="114.10" y="135.03" width="4.76" height="2.57" fill="#debcfb"/>
<rect x="118.56" y="135.03" width="4.76" height="2.57" fill="#dfbdfb"/>
<rect x="123.02" y="135.03" width="4.76" height="2.57" fill="#d8b2fb"/>
<rect x="127.49" y="135.03" width="4.76" height="2.57" fill="#dbb6fb"/>
<rect x="131.95" y="135.03" width="4.76" height="2.57" fill="#dfbdfb"/>
<rect x="136.41" y="135.03" width="4.76" height="2.57" fill="#dcb8fb"/>
<rect x="140.87" y="135.03" width="4.76" height="2.57" fill="#dfbdfb"/>
<rect x="145.34" y="135.03" width="4.76" height="2.57" fill="#dab6fb"/>
<rect x="29.30" y="137.30" width="4.76" height="2.57" fill="#ff1f0c"/>
<rect x="33.76" y="137.30" width="4.76" height="2.57" fill="#ff4528"/>
<rect x="38.23" y="137.30" width="4.76" height="2.57" fill="#ff4c2d"/>
<rect x="42.69" y="137.30" width="4.76" height="2.57" fill="#ff5031"/>
<rect x="47.15" y="137.30" width="4.76" height="2.57" fill="#ff4d2e"/>
<rect x="51.61" y="137.30" width="4.76" height="2.57" fill="#ff371d"/>
<rect x="56.08" y="137.30" width="4.76" height="2.57" fill="#dbb7fb"/>
<rect x="60.54" y="137.30" width="4.76" height="2.57" fill="#d5aefb"/>
<rect x="65.00" y="137.30" width="4.76" height="2.57" fill="#dab5fb"/>
<rect x="69.47" y="137.30" width="4.76" height="2.57" fill="#dcb8fb"/>
<rect x="73.93" y="137.30" width="4.76" height="2.57" fill="#d5affb"/>
<rect x="78.39" y="137.30" width="4.76" height="2.57" fill="#dcb8fb"/>
<rect x="82.86" y="137.30" width="4.76" height="2.57" fill="#d7b0fb"/>
<rect x="87.32" y="137.30" width="4.76" height="2.57" fill="#dab6fb"/>
<rect x="91.78" y="137.30" width="4.76" height="2.57" fill="#d7b1fb"/>
<rect x="96.24" y="137.30" width="4.76" height="2.57" fill="#d5aefb"/>
<rect x="100.71" y="137.30" width="4.76" height="2.57" fill="#d5affb"/>
<rect x="105.17" y="137.30" width="4.76" height="2.57" fill="#d5affb"/>
<rect x="109.63" y="137.30" width="4.76" height="2.57" fill="#d4adfb"/>
<rect x="114.10" y="137.30" width="4.76" height="2.57" fill="#d6affb"/>
<rect x="118.56" y="137.30" width="4.76" height="2.57" fill="#dbb8fb"/>
<rect x="123.02" y="137.30" width="4.76" height="2.57" fill="#dcb8fb"/>
<rect x="127.49" y="137.30" width="4.76" height="2.57" fill="#dbb7fb"/>
<rect x="131.95" y="137.30" width="4.76" height="2.57" fill="#d8b2fb"/>
<rect x="136.41" y="137.30" width="4.76" height="2.57" fill="#dbb8fb"/>
<rect x="140.87" y="137.30" width="4.76" height="2.57" fill="#d9b4fb"/>
<rect x="145.34" y="137.30" width="4.76" height="2.57" fill="#d7b1fb"/>
<rect x="29.30" y="139.57" width="4.76" height="2.57" fill="#ff5736"/>
<rect x="33.76" y="139.57" width="4.76" height="2.57" fill="#ff5434"/>
<rect x="38.23" y="139.57" width="4.76" height="2.57" fill="#ff5939"/>
<rect x="42.69" y="139.57" width="4.76" height="2.57" fill="#ff4f30"/>
<rect x="47.15" y="139.57" width="4.76" height="2.57" fill="#ff5434"/>
<rect x="51.61" y="139.57" width="4.76" height="2.57" fill="#ff6140"/>
<rect x="56.08" y="139.57" width="4.76" height="2.57" fill="#debbfb"/>
<rect x="60.54" y="139.57" width="4.76" height="2.57" fill="#dab5fb"/>
<rect x="65.00" y="139.57" width="4.76" height="2.57" fill="#d9b4fb"/>
<rect x="69.47" y="139.57" width="4.76" height="2.57" fill="#d9b4fb"/>
<rect x="73.93" y="139.57" width="4.76" height="2.57" fill="#dbb6fb"/>
<rect x="78.39" y="139.57" width="4.76" height="2.57" fill="#debbfb"/>
<rect x="82.86" y="139.57" width="4.76" height="2.57" fill="#debcfb"/>
<rect x="87.32" y="139.57" width="4.76" height="2.57" fill="#debbfb"/>
<rect x="91.78" y="139.57" width="4.76" height="2.57" fill="#d8b3fb"/>
<rect x="96.24" y="139.57" width="4.76" height="2.57" fill="#d9b4fb"/>
<rect x="100.71" y="139.57" width="4.76" height="2.57" fill="#d8b3fb"/>
<rect x="105.17" y="139.57" width="4.76" height="2.57" fill="#debcfb"/>
<rect x="109.63" y="139.57" width="4.76" height="2.57" fill="#debbfb"/>
<rect x="114.10" y="139.57" width="4.76" height="2.57" fill="#d9b4fb"/>
<rect x="118.56" y="139.57" width="4.76" height="2.57" fill="#d7b1fb"/>
<rect x="123.02" y="139.57" width="4.76" height="2.57" fill="#d9b4fb"/>
<rect x="127.49" y="139.57" width="4.76" height="2.57" fill="#d7b1fb"/>
<rect x="131.95" y="139.57" width="4.76" height="2.57" fill="#d9b5fb"/>
<rect x="136.41" y="139.57" width="4.76" height="2.57" fill="#d7b1fb"/>
<rect x="140.87" y="139.57" width="4.76" height="2.57" fill="#dbb7fb"/>
<rect x="145.34" y="139.57" width="4.76" height="2.57" fill="#dab6fb"/>
<rect x="29.30" y="141.84" width="4.76" height="2.57" fill="#ff5939"/>
<rect x="33.76" y="141.84" width="4.76" height="2.57" fill="#ff5837"/>
<rect x="38.23" y="141.84" width="4.76" height="2.57" fill="#ff4326"/>
<rect x="42.69" y="141.84" width="4.76" height="2.57" fill="#ff5132"/>
<rect x="47.15" y="141.84" width="4.76" height="2.57" fill="#ff6240"/>
<rect x="51.61" y="141.84" width="4.76" height="2.57" fill="#ff6544"/>
<rect x="56.08" y="141.84" width="4.76" height="2.57" fill="#d5affb"/>
<rect x="60.54" y="141.84" width="4.76" height="2.57" fill="#d9b3fb"/>
<rect x="65.00" y="141.84" width="4.76" height="2.57" fill="#d6b0fb"/>
<rect x="69.47" y="141.84" width="4.76" height="2.57" fill="#dab6fb"/>
<rect x="73.93" y="141.84" width="4.76" height="2.57" fill="#d9b4fb"/>
<rect x="78.39" y="141.84" width="4.76" height="2.57" fill="#d5aefb"/>
<rect x="82.86" y="141.84" width="4.76" height="2.57" fill="#d8b2fb"/>
<rect x="87.32" y="141.84" width="4.76" height="2.57" fill="#d5aefb"/>
<rect x="91.78" y="141.84" width="4.76" height="2.57" fill="#d7b2fb"/>
<rect x="96.24" y="141.84" width="4.76" height="2.57" fill="#dbb8fb"/>
<rect x="100.71" y="141.84" width="4.76" height="2.57" fill="#d5aefb"/>
<rect x="105.17" y="141.84" width="4.76" height="2.57" fill="#d8b3fb"/>
<rect x="109.63" y="141.84" width="4.76" height="2.57" fill="#d7b1fb"/>
<rect x="114.10" y="141.84" width="4.76" height="2.57" fill="#dbb7fb"/>
<rect x="118.56" y="141.84" width="4.76" height="2.57" fill="#d6b0fb"/>
<rect x="123.02" y="141.84" width="4.76" height="2.57" fill="#f5e8fd"/>
<rect x="127.49" y="141.84" width="4.76" height="2.57" fill="#d8b3fb"/>
<rect x="131.95" y="141.84" width="4.76" height="2.57" fill="#d6affb"/>
<rect x="136.41" y="141.84" width="4.76" height="2.57" fill="#dbb7fb"/>
<rect x="140.87" y="141.84" width="4.76" height="2.57" fill="#d7b1fb"/>
<rect x="145.34" y="141.84" width="4.76" height="2.57" fill="#d8b2fb"/>
<rect x="29.30" y="144.11" width="4.76" height="2.57" fill="#ff2913"/>
<rect x="33.76" y="144.11" width="4.76" height="2.57" fill="#ff3f23"/>
<rect x="38.23" y="144.11" width="4.76" height="2.57" fill="#ff3e22"/>
<rect x="42.69" y="144.11" width="4.76" height="2.57" fill="#ff4b2c"/>
<rect x="47.15" y="144.11" width="4.76" height="2.57" fill="#ff4a2c"/>
<rect x="51.61" y="144.11" width="4.76" height="2.57" fill="#ff5b3b"/>
<rect x="56.08" y="144.11" width="4.76" height="2.57" fill="#dbb7fb"/>
<rect x="60.54" y="144.11" width="4.76" height="2.57" fill="#d5aefb"/>
<rect x="65.00" y="144.11" width="4.76" height="2.57" fill="#d5affb"/>
<rect x="69.47" y="144.11" width="4.76" height="2.57" fill="#d4acfb"/>
<rect x="73.93" y="144.11" width="4.76" height="2.57" fill="#d9b4fb"/>
<rect x="78.39" y="144.11" width="4.76" height="2.57" fill="#d3acfb"/>
<rect x="82.86" y="144.11" width="4.76" height="2.57" fill="#d8b2fb"/>
<rect x="87.32" y="144.11" width="4.76" height="2.57" fill="#d9b4fb"/>
<rect x="91.78" y="144.11" width="4.76" height="2.57" fill="#dab6fb"/>
<rect x="96.24" y="144.11" width="4.76" height="2.57" fill="#d4acfb"/>
<rect x="100.71" y="144.11" width="4.76" height="2.57" fill="#d7b2fb"/>
<rect x="105.17" y="144.11" width="4.76" height="2.57" fill="#d6affb"/>
<rect x="109.63" y="144.11" width="4.76" height="2.57" fill="#d7b1fb"/>
<rect x="114.10" y="144.11" width="4.76" height="2.57" fill="#d8b3fb"/>
<rect x="118.56" y="144.11" width="4.76" height="2.57" fill="#d5aefb"/>
<rect x="123.02" y="144.11" width="4.76" height="2.57" fill="#d9b4fb"/>
<rect x="127.49" y="144.11" width="4.76" height="2.57" fill="#dab5fb"/>
<rect x="131.95" y="144.11" width="4.76" height="2.57" fill="#d6b0fb"/>
<rect x="136.41" y="144.11" width="4.76" height="2.57" fill="#dab6fb"/>
<rect x="140.87" y="144.11" width="4.76" height="2.57" fill="#d7b0fb"/>
<rect x="145.34" y="144.11" width="4.76" height="2.57" fill="#dab5fb"/>
<rect x="29.30" y="146.39" width="4.76" height="2.57" fill="#ff5939"/>
<rect x="33.76" y="146.39" width="4.76" height="2.57" fill="#ff4629"/>
<rect x="38.23" y="146.39" width="4.76" height="2.57" fill="#ff4d2e"/>
<rect x="42.69" y="146.39" width="4.76" height="2.57" fill="#ff5434"/>
<rect x="47.15" y="146.39" width="4.76" height="2.57" fill="#ff5837"/>
<rect x="51.61" y="146.39" width="4.76" height="2.57" fill="#ff5736"/>
<rect x="56.08" y="146.39" width="4.76" height="2.57" fill="#d5affb"/>
<rect x="60.54" y="146.39" width="4.76" height="2.57" fill="#dcb9fb"/>
<rect x="65.00" y="146.39" width="4.76" height="2.57" fill="#d7b1fb"/>
<rect x="69.47" y="146.39" width="4.76" height="2.57" fill="#dab5fb"/>
<rect x="73.93" y="146.39" width="4.76" height="2.57" fill="#d9b4fb"/>
<rect x="78.39" y="146.39" width="4.76" height="2.57" fill="#d8b3fb"/>
<rect x="82.86" y="146.39" width="4.76" height="2.57" fill="#d5aefb"/>
<rect x="87.32" y="146.39" width="4.76" height="2.57" fill="#dcb9fb"/>
<rect x="91.78" y="146.39" width="4.76" height="2.57" fill="#dcb9fb"/>
<rect x="96.24" y="146.39" width="4.76" height="2.57" fill="#dbb7fb"/>
<rect x="100.71" y="146.39" width="4.76" height="2.57" fill="#dcb8fb"/>
<rect x="105.17" y="146.39" width="4.76" height="2.57" fill="#dab5fb"/>
<rect x="109.63" y="146.39" width="4.76" height="2.57" fill="#dab6fb"/>
<rect x="114.10" y="146.39" width="4.76" height="2.57" fill="#d9b4fb"/>
<rect x="118.56" y="146.39" width="4.76" height="2.57" fill="#dab5fb"/>
<rect x="123.02" y="146.39" width="4.76" height="2.57" fill="#d9b4fb"/>
<rect x="127.49" y="146.39" width="4.76" height="2.57" fill="#dcb9fb"/>
<rect x="131.95" y="146.39" width="4.76" height="2.57" fill="#d7b1fb"/>
<rect x="136.41" y="146.39" width="4.76" height="2.57" fill="#d6affb"/>
<rect x="140.87" y="146.39" width="4.76" height="2.57" fill="#dcb9fb"/>
<rect x="145.34" y="146.39" width="4.76" height="2.57" fill="#d7b1fb"/>
<rect x="29.30" y="148.66" width="4.76" height="2.57" fill="#ff6948"/>
<rect x="33.76" y="148.66" width="4.76" height="2.57" fill="#ff6948"/>
<rect x="38.23" y="148.66" width="4.76" height="2.57" fill="#ff6543"/>
<rect x="42.69" y="148.66" width="4.76" height="2.57" fill="#ff6b49"/>
<rect x="47.15" y="148.66" width="4.76" height="2.57" fill="#ff6e4d"/>
<rect x="51.61" y="148.66" width="4.76" height="2.57" fill="#ff6f4e"/>
<rect x="56.08" y="148.66" width="4.76" height="2.57" fill="#d8b2fb"/>
<rect x="60.54" y="148.66" width="4.76" height="2.57" fill="#debbfb"/>
<rect x="65.00" y="148.66" width="4.76" height="2.57" fill="#dcb8fb"/>
<rect x="69.47" y="148.66" width="4.76" height="2.57" fill="#d9b4fb"/>
<rect x="73.93" y="148.66" width="4.76" height="2.57" fill="#dbb7fb"/>
<rect x="78.39" y="148.66" width="4.76" height="2.57" fill="#dcb8fb"/>
<rect x="82.86" y="148.66" width="4.76" height="2.57" fill="#dab5fb"/>
<rect x="87.32" y="148.66" width="4.76" height="2.57" fill="#d9b4fb"/>
<rect x="91.78" y="148.66" width="4.76" height="2.57" fill="#dab6fb"/>
<rect x="96.24" y="148.66" width="4.76" height="2.57" fill="#d7b1fb"/>
<rect x="100.71" y="148.66" width="4.76" height="2.57" fill="#debbfb"/>
<rect x="105.17" y="148.66" width="4.76" height="2.57" fill="#dcb8fb"/>
<rect x="109.63" y="148.66" width="4.76" height="2.57" fill="#d9b5fb"/>
<rect x="114.10" y="148.66" width="4.76" height="2.57" fill="#d9b5fb"/>
<rect x="118.56" y="148.66" width="4.76" height="2.57" fill="#d8b3fb"/>
<rect x="123.02" y="148.66" width="4.76" height="2.57" fill="#debbfb"/>
<rect x="127.49" y="148.66" width="4.76" height="2.57" fill="#d8b2fb"/>
<rect x="131.95" y="148.66" width="4.76" height="2.57" fill="#dbb6fb"/>
<rect x="136.41" y="148.66" width="4.76" height="2.57" fill="#d8b3fb"/>
<rect x="140.87" y="148.66" width="4.76" height="2.57" fill="#dfbcfb"/>
<rect x="145.34" y="148.66" width="4.76" height="2.57" fill="#d8b3fb"/>
<rect x="29.30" y="150.93" width="4.76" height="2.57" fill="#ff4427"/>
<rect x="33.76" y="150.93" width="4.76" height="2.57" fill="#ff3b1f"/>
<rect x="38.23" y="150.93" width="4.76" height="2.57" fill="#ff3c20"/>
<rect x="42.69" y="150.93" width="4.76" height="2.57" fill="#ff5333"/>
<rect x="47.15" y="150.93" width="4.76" height="2.57" fill="#ff4c2d"/>
<rect x="51.61" y="150.93" width="4.76" height="2.57" fill="#ff4c2d"/>
<rect x="56.08" y="150.93" width="4.76" height="2.57" fill="#dcb8fb"/>
<rect x="60.54" y="150.93" width="4.76" height="2.57" fill="#dcb8fb"/>
<rect x="65.00" y="150.93" width="4.76" height="2.57" fill="#ddbafb"/>
<rect x="69.47" y="150.93" width="4.76" height="2.57" fill="#f7eefd"/>
<rect x="73.93" y="150.93" width="4.76" height="2.57" fill="#dab6fb"/>
<rect x="78.39" y="150.93" width="4.76" height="2.57" fill="#ddbafb"/>
<rect x="82.86" y="150.93" width="4.76" height="2.57" fill="#d9b4fb"/>
<rect x="87.32" y="150.93" width="4.76" height="2.57" fill="#ddb9fb"/>
<rect x="91.78" y="150.93" width="4.76" height="2.57" fill="#d9b4fb"/>
<rect x="96.24" y="150.93" width="4.76" height="2.57" fill="#d9b4fb"/>
<rect x="100.71" y="150.93" width="4.76" height="2.57" fill="#d8b3fb"/>
<rect x="105.17" y="150.93" width="4.76" height="2.57" fill="#dab6fb"/>
<rect x="109.63" y="150.93" width="4.76" height="2.57" fill="#d8b3fb"/>
<rect x="114.10" y="150.93" width="4.76" height="2.57" fill="#dcb9fb"/>
<rect x="118.56" y="150.93" width="4.76" height="2.57" fill="#d9b4fb"/>
<rect x="123.02" y="150.93" width="4.76" height="2.57" fill="#d8b3fb"/>
<rect x="127.49" y="150.93" width="4.76" height="2.57" fill="#dab6fb"/>
<rect x="131.95" y="150.93" width="4.76" height="2.57" fill="#d6b0fb"/>
<rect x="136.41" y="150.93" width="4.76" height="2.57" fill="#d8b3fb"/>
<rect x="140.87" y="150.93" width="4.76" height="2.57" fill="#dcb9fb"/>
<rect x="145.34" y="150.93" width="4.76" height="2.57" fill="#d7b2fb"/>
<rect x="29.30" y="153.20" width="4.76" height="2.57" fill="#ff704f"/>
<rect x="33.76" y="153.20" width="4.76" height="2.57" fill="#ff6240"/>
<rect x="38.23" y="153.20" width="4.76" height="2.57" fill="#ff6442"/>
<rect x="42.69" y="153.20" width="4.76" height="2.57" fill="#ff6140"/>
<rect x="47.15" y="153.20" width="4.76" height="2.57" fill="#ff6544"/>
<rect x="51.61" y="153.20" width="4.76" height="2.57" fill="#ff6c4b"/>
<rect x="56.08" y="153.20" width="4.76" height="2.57" fill="#e1c1fb"/>
<rect x="60.54" y="153.20" width="4.76" height="2.57" fill="#debcfb"/>
<rect x="65.00" y="153.20" width="4.76" height="2.57" fill="#ddbafb"/>
<rect x="69.47" y="153.20" width="4.76" height="2.57" fill="#dfbcfb"/>
<rect x="73.93" y="153.20" width="4.76" height="2.57" fill="#e0c1fb"/>
<rect x="78.39" y="153.20" width="4.76" height="2.57" fill="#debcfb"/>
<rect x="82.86" y="153.20" width="4.76" height="2.57" fill="#ddbafb"/>
<rect x="87.32" y="153.20" width="4.76" height="2.57" fill="#debcfb"/>
<rect x="91.78" y="153.20" width="4.76" height="2.57" fill="#e0c0fb"/>
<rect x="96.24" y="153.20" width="4.76" height="2.57" fill="#debbfb"/>
<rect x="100.71" y="153.20" width="4.76" height="2.57" fill="#dfbdfb"/>
<rect x="105.17" y="153.20" width="4.76" height="2.57" fill="#ddbafb"/>
<rect x="109.63" y="153.20" width="4.76" height="2.57" fill="#dfbffb"/>
<rect x="114.10" y="153.20" width="4.76" height="2.57" fill="#ddb9fb"/>
<rect x="118.56" y="153.20" width="4.76" height="2.57" fill="#dfbffb"/>
<rect x="123.02" y="153.20" width="4.76" height="2.57" fill="#dbb7fb"/>
<rect x="127.49" y="153.20" width="4.76" height="2.57" fill="#dfbefb"/>
<rect x="131.95" y="153.20" width="4.76" height="2.57" fill="#e1c1fb"/>
<rect x="136.41" y="153.20" width="4.76" height="2.57" fill="#ddbafb"/>
<rect x="140.87" y="153.20" width="4.76" height="2.57" fill="#dcb9fb"/>
<rect x="145.34" y="153.20" width="4.76" height="2.57" fill="#debbfb"/>
<rect x="29.30" y="155.47" width="4.76" height="2.57" fill="#ff4729"/>
<rect x="33.76" y="155.47" width="4.76" height="2.57" fill="#ff5030"/>
<rect x="38.23" y="155.47" width="4.76" height="2.57" fill="#ff371c"/>
<rect x="42.69" y="155.47" width="4.76" height="2.57" fill="#ff5132"/>
<rect x="47.15" y="155.47" width="4.76" height="2.57" fill="#ff6443"/>
<rect x="51.61" y="155.47" width="4.76" height="2.57" fill="#ff5938"/>
<rect x="56.08" y="155.47" width="4.76" height="2.57" fill="#dbb6fb"/>
<rect x="60.54" y="155.47" width="4.76" height="2.57" fill="#f3e3fd"/>
<rect x="65.00" y="155.47" width="4.76" height="2.57" fill="#dbb7fb"/>
<rect x="69.47" y="155.47" width="4.76" height="2.57" fill="#dab5fb"/>
<rect x="73.93" y="155.47" width="4.76" height="2.57" fill="#d8b3fb"/>
<rect x="78.39" y="155.47" width="4.76" height="2.57" fill="#d6b0fb"/>
<rect x="82.86" y="155.47" width="4.76" height="2.57" fill="#d9b3fb"/>
<rect x="87.32" y="155.47" width="4.76" height="2.57" fill="#d9b4fb"/>
<rect x="91.78" y="155.47" width="4.76" height="2.57" fill="#d5affb"/>
<rect x="96.24" y="155.47" width="4.76" height="2.57" fill="#dab6fb"/>
<rect x="100.71" y="155.47" width="4.76" height="2.57" fill="#d5aefb"/>
<rect x="105.17" y="155.47" width="4.76" height="2.57" fill="#d8b3fb"/>
<rect x="109.63" y="155.47" width="4.76" height="2.57" fill="#d9b4fb"/>
<rect x="114.10" y="155.47" width="4.76" height="2.57" fill="#c89cfb"/>
<rect x="118.56" y="155.47" width="4.76" height="2.57" fill="#dab6fb"/>
<rect x="123.02" y="155.47" width="4.76" height="2.57" fill="#dab5fb"/>
<rect x="127.49" y="155.47" width="4.76" height="2.57" fill="#d6affb"/>
<rect x="131.95" y="155.47" width="4.76" height="2.57" fill="#d5aefb"/>
<rect x="136.41" y="155.47" width="4.76" height="2.57" fill="#d9b4fb"/>
<rect x="140.87" y="155.47" width="4.76" height="2.57" fill="#d8b2fb"/>
<rect x="145.34" y="155.47" width="4.76" height="2.57" fill="#d5aefb"/>
<rect x="29.30" y="157.74" width="4.76" height="2.57" fill="#ff3d21"/>
<rect x="33.76" y="157.74" width="4.76" height="2.57" fill="#ff351b"/>
<rect x="38.23" y="157.74" width="4.76" height="2.57" fill="#ff4527"/>
<rect x="42.69" y="157.74" width="4.76" height="2.57" fill="#ff5737"/>
<rect x="47.15" y="157.74" width="4.76" height="2.57" fill="#ff361c"/>
<rect x="51.61" y="157.74" width="4.76" height="2.57" fill="#ff3a1e"/>
<rect x="56.08" y="157.74" width="4.76" height="2.57" fill="#dab5fb"/>
<rect x="60.54" y="157.74" width="4.76" height="2.57" fill="#debbfb"/>
<rect x="65.00" y="157.74" width="4.76" height="2.57" fill="#dcb9fb"/>
<rect x="69.47" y="157.74" width="4.76" height="2.57" fill="#dbb8fb"/>
<rect x="73.93" y="157.74" width="4.76" height="2.57" fill="#d9b5fb"/>
<rect x="78.39" y="157.74" width="4.76" height="2.57" fill="#ddbafb"/>
<rect x="82.86" y="157.74" width="4.76" height="2.57" fill="#dab5fb"/>
<rect x="87.32" y="157.74" width="4.76" height="2.57" fill="#dbb7fb"/>
<rect x="91.78" y="157.74" width="4.76" height="2.57" fill="#d9b5fb"/>
<rect x="96.24" y="157.74" width="4.76" height="2.57" fill="#dab6fb"/>
<rect x="100.71" y="157.74" width="4.76" height="2.57" fill="#dfbdfb"/>
<rect x="105.17" y="157.74" width="4.76" height="2.57" fill="#dcb8fb"/>
<rect x="109.63" y="157.74" width="4.76" height="2.57" fill="#dcb8fb"/>
<rect x="114.10" y="157.74" width="4.76" height="2.57" fill="#dbb6fb"/>
<rect x="118.56" y="157.74" width="4.76" height="2.57" fill="#d8b3fb"/>
<rect x="123.02" y="157.74" width="4.76" height="2.57" fill="#dab6fb"/>
<rect x="127.49" y="157.74" width="4.76" height="2.57" fill="#d9b4fb"/>
<rect x="131.95" y="157.74" width="4.76" height="2.57" fill="#d9b5fb"/>
<rect x="136.41" y="157.74" width="4.76" height="2.57" fill="#ddb9fb"/>
<rect x="140.87" y="157.74" width="4.76" height="2.57" fill="#d9b4fb"/>
<rect x="145.34" y="157.74" width="4.76" height="2.57" fill="#d8b3fb"/>
<rect x="29.30" y="160.01" width="4.76" height="2.57" fill="#ff6140"/>
<rect x="33.76" y="160.01" width="4.76" height="2.57" fill="#ff5534"/>
<rect x="38.23" y="160.01" width="4.76" height="2.57" fill="#ff5635"/>
<rect x="42.69" y="160.01" width="4.76" height="2.57" fill="#ff7351"/>
<rect x="47.15" y="160.01" width="4.76" height="2.57" fill="#ff6d4c"/>
<rect x="51.61" y="160.01" width="4.76" height="2.57" fill="#ff6241"/>
<rect x="56.08" y="160.01" width="4.76" height="2.57" fill="#dcb9fb"/>
<rect x="60.54" y="160.01" width="4.76" height="2.57" fill="#dbb7fb"/>
<rect x="65.00" y="160.01" width="4.76" height="2.57" fill="#ddbbfb"/>
<rect x="69.47" y="160.01" width="4.76" height="2.57" fill="#ddbafb"/>
<rect x="73.93" y="160.01" width="4.76" height="2.57" fill="#dfbdfb"/>
<rect x="78.39" y="160.01" width="4.76" height="2.57" fill="#dfbffb"/>
<rect x="82.86" y="160.01" width="4.76" height="2.57" fill="#dcb9fb"/>
<rect x="87.32" y="160.01" width="4.76" height="2.57" fill="#debcfb"/>
<rect x="91.78" y="160.01" width="4.76" height="2.57" fill="#dfbffb"/>
<rect x="96.24" y="160.01" width="4.76" height="2.57" fill="#debbfb"/>
<rect x="100.71" y="160.01" width="4.76" height="2.57" fill="#dcb8fb"/>
<rect x="105.17" y="160.01" width="4.76" height="2.57" fill="#ddb9fb"/>
<rect x="109.63" y="160.01" width="4.76" height="2.57" fill="#debbfb"/>
<rect x="114.10" y="160.01" width="4.76" height="2.57" fill="#ddb9fb"/>
<rect x="118.56" y="160.01" width="4.76" height="2.57" fill="#dbb7fb"/>
<rect x="123.02" y="160.01" width="4.76" height="2.57" fill="#dcb8fb"/>
<rect x="127.49" y="160.01" width="4.76" height="2.57" fill="#dab6fb"/>
<rect x="131.95" y="160.01" width="4.76" height="2.57" fill="#dcb9fb"/>
<rect x="136.41" y="160.01" width="4.76" height="2.57" fill="#dcb8fb"/>
<rect x="140.87" y="160.01" width="4.76" height="2.57" fill="#dcb8fb"/>
<rect x="145.34" y="160.01" width="4.76" height="2.57" fill="#dab6fb"/>
<rect x="29.30" y="162.29" width="4.76" height="2.57" fill="#ff4628"/>
<rect x="33.76" y="162.29" width="4.76" height="2.57" fill="#ff4b2c"/>
<rect x="38.23" y="162.29" width="4.76" height="2.57" fill="#ff4729"/>
<rect x="42.69" y="162.29" width="4.76" height="2.57" fill="#ff5333"/>
<rect x="47.15" y="162.29" width="4.76" height="2.57" fill="#ff6a48"/>
<rect x="51.61" y="162.29" width="4.76" height="2.57" fill="#ff6544"/>
<rect x="56.08" y="162.29" width="4.76" height="2.57" fill="#d5affb"/>
<rect x="60.54" y="162.29" width="4.76" height="2.57" fill="#dab6fb"/>
<rect x="65.00" y="162.29" width="4.76" height="2.57" fill="#d8b3fb"/>
<rect x="69.47" y="162.29" width="4.76" height="2.57" fill="#dbb6fb"/>
<rect x="73.93" y="162.29" width="4.76" height="2.57" fill="#dcb8fb"/>
<rect x="78.39" y="162.29" width="4.76" height="2.57" fill="#dab6fb"/>
<rect x="82.86" y="162.29" width="4.76" height="2.57" fill="#d6b0fb"/>
<rect x="87.32" y="162.29" width="4.76" height="2.57" fill="#dbb7fb"/>
<rect x="91.78" y="162.29" width="4.76" height="2.57" fill="#d5affb"/>
<rect x="96.24" y="162.29" width="4.76" height="2.57" fill="#d6b0fb"/>
<rect x="100.71" y="162.29" width="4.76" height="2.57" fill="#d8b2fb"/>
<rect x="105.17" y="162.29" width="4.76" height="2.57" fill="#d5affb"/>
<rect x="109.63" y="162.29" width="4.76" height="2.57" fill="#dab6fb"/>
<rect x="114.10" y="162.29" width="4.76" height="2.57" fill="#dcb8fb"/>
<rect x="118.56" y="162.29" width="4.76" height="2.57" fill="#dbb7fb"/>
<rect x="123.02" y="162.29" width="4.76" height="2.57" fill="#d9b3fb"/>
<rect x="127.49" y="162.29" width="4.76" height="2.57" fill="#f8effd"/>
<rect x="131.95" y="162.29" width="4.76" height="2.57" fill="#dbb7fb"/>
<rect x="136.41" y="162.29" width="4.76" height="2.57" fill="#d5affb"/>
<rect x="140.87" y="162.29" width="4.76" height="2.57" fill="#dab5fb"/>
<rect x="145.34" y="162.29" width="4.76" height="2.57" fill="#d7b1fb"/>
<rect x="29.30" y="164.56" width="4.76" height="2.57" fill="#ff4e2f"/>
<rect x="33.76" y="164.56" width="4.76" height="2.57" fill="#ff5434"/>
<rect x="38.23" y="164.56" width="4.76" height="2.57" fill="#ff6847"/>
<rect x="42.69" y="164.56" width="4.76" height="2.57" fill="#ff603f"/>
<rect x="47.15" y="164.56" width="4.76" height="2.57" fill="#ff6948"/>
<rect x="51.61" y="164.56" width="4.76" height="2.57" fill="#ff5f3e"/>
<rect x="56.08" y="164.56" width="4.76" height="2.57" fill="#e0befb"/>
<rect x="60.54" y="164.56" width="4.76" height="2.57" fill="#dab5fb"/>
<rect x="65.00" y="164.56" width="4.76" height="2.57" fill="#dcb9fb"/>
<rect x="69.47" y="164.56" width="4.76" height="2.57" fill="#dfbcfb"/>
<rect x="73.93" y="164.56" width="4.76" height="2.57" fill="#e0befb"/>
<rect x="78.39" y="164.56" width="4.76" height="2.57" fill="#ddb9fb"/>
<rect x="82.86" y="164.56" width="4.76" height="2.57" fill="#dfbcfb"/>
<rect x="87.32" y="164.56" width="4.76" height="2.57" fill="#ddbafb"/>
<rect x="91.78" y="164.56" width="4.76" height="2.57" fill="#dab6fb"/>
<rect x="96.24" y="164.56" width="4.76" height="2.57" fill="#dab5fb"/>
<rect x="100.71" y="164.56" width="4.76" height="2.57" fill="#dfbefb"/>
<rect x="105.17" y="164.56" width="4.76" height="2.57" fill="#ddbbfb"/>
<rect x="109.63" y="164.56" width="4.76" height="2.57" fill="#debcfb"/>
<rect x="114.10" y="164.56" width="4.76" height="2.57" fill="#dbb7fb"/>
<rect x="118.56" y="164.56" width="4.76" height="2.57" fill="#dcb8fb"/>
<rect x="123.02" y="164.56" width="4.76" height="2.57" fill="#dbb7fb"/>
<rect x="127.49" y="164.56" width="4.76" height="2.57" fill="#dab6fb"/>
<rect x="131.95" y="164.56" width="4.76" height="2.57" fill="#debcfb"/>
<rect x="136.41" y="164.56" width="4.76" height="2.57" fill="#dbb7fb"/>
<rect x="140.87" y="164.56" width="4.76" height="2.57" fill="#ddb9fb"/>
<rect x="145.34" y="164.56" width="4.76" height="2.57" fill="#dcb8fb"/>
<rect x="29.30" y="166.83" width="4.76" height="2.57" fill="#ff5d3c"/>
<rect x="33.76" y="166.83" width="4.76" height="2.57" fill="#ff6442"/>
<rect x="38.23" y="166.83" width="4.76" height="2.57" fill="#ff5535"/>
<rect x="42.69" y="166.83" width="4.76" height="2.57" fill="#ff6746"/>
<rect x="47.15" y="166.83" width="4.76" height="2.57" fill="#ff6140"/>
<rect x="51.61" y="166.83" width="4.76" height="2.57" fill="#ff7250"/>
<rect x="56.08" y="166.83" width="4.76" height="2.57" fill="#dfbdfb"/>
<rect x="60.54" y="166.83" width="4.76" height="2.57" fill="#ddbbfb"/>
<rect x="65.00" y="166.83" width="4.76" height="2.57" fill="#dfbffb"/>
<rect x="69.47" y="166.83" width="4.76" height="2.57" fill="#dcb9fb"/>
<rect x="73.93" y="166.83" width="4.76" height="2.57" fill="#dcb8fb"/>
<rect x="78.39" y="166.83" width="4.76" height="2.57" fill="#dcb9fb"/>
<rect x="82.86" y="166.83" width="4.76" height="2.57" fill="#dfbdfb"/>
<rect x="87.32" y="166.83" width="4.76" height="2.57" fill="#dbb7fb"/>
<rect x="91.78" y="166.83" width="4.76" height="2.57" fill="#debbfb"/>
<rect x="96.24" y="166.83" width="4.76" height="2.57" fill="#dbb7fb"/>
<rect x="100.71" y="166.83" width="4.76" height="2.57" fill="#dab5fb"/>
<rect x="105.17" y="166.83" width="4.76" height="2.57" fill="#dfbefb"/>
<rect x="109.63" y="166.83" width="4.76" height="2.57" fill="#dfbefb"/>
<rect x="114.10" y="166.83" width="4.76" height="2.57" fill="#debcfb"/>
<rect x="118.56" y="166.83" width="4.76" height="2.57" fill="#debbfb"/>
<rect x="123.02" y="166.83" width="4.76" height="2.57" fill="#dbb8fb"/>
<rect x="127.49" y="166.83" width="4.76" height="2.57" fill="#dab5fb"/>
<rect x="131.95" y="166.83" width="4.76" height="2.57" fill="#dfbdfb"/>
<rect x="136.41" y="166.83" width="4.76" height="2.57" fill="#e0c0fb"/>
<rect x="140.87" y="166.83" width="4.76" height="2.57" fill="#dcb8fb"/>
<rect x="145.34" y="166.83" width="4.76" height="2.57" fill="#dbb7fb"/>
<rect x="29.30" y="169.10" width="4.76" height="2.57" fill="#ff482a"/>
<rect x="33.76" y="169.10" width="4.76" height="2.57" fill="#ff4c2d"/>
<rect x="38.23" y="169.10" width="4.76" height="2.57" fill="#ff3b20"/>
<rect x="42.69" y="169.10" width="4.76" height="2.57" fill="#ff4024"/>
<rect x="47.15" y="169.10" width="4.76" height="2.57" fill="#ff3d21"/>
<rect x="51.61" y="169.10" width="4.76" height="2.57" fill="#ff5838"/>
<rect x="56.08" y="169.10" width="4.76" height="2.57" fill="#dfbdfb"/>
<rect x="60.54" y="169.10" width="4.76" height="2.57" fill="#dfbdfb"/>
<rect x="65.00" y="169.10" width="4.76" height="2.57" fill="#dab6fb"/>
<rect x="69.47" y="169.10" width="4.76" height="2.57" fill="#dcb8fb"/>
<rect x="73.93" y="169.10" width="4.76" height="2.57" fill="#ddbafb"/>
<rect x="78.39" y="169.10" width="4.76" height="2.57" fill="#dfbefb"/>
<rect x="82.86" y="169.10" width="4.76" height="2.57" fill="#d9b5fb"/>
<rect x="87.32" y="169.10" width="4.76" height="2.57" fill="#debbfb"/>
<rect x="91.78" y="169.10" width="4.76" height="2.57" fill="#dfbcfb"/>
<rect x="96.24" y="169.10" width="4.76" height="2.57" fill="#dfbffb"/>
<rect x="100.71" y="169.10" width="4.76" height="2.57" fill="#ddbafb"/>
<rect x="105.17" y="169.10" width="4.76" height="2.57" fill="#dbb7fb"/>
<rect x="109.63" y="169.10" width="4.76" height="2.57" fill="#dab5fb"/>
<rect x="114.10" y="169.10" width="4.76" height="2.57" fill="#dab6fb"/>
<rect x="118.56" y="169.10" width="4.76" height="2.57" fill="#e0bffb"/>
<rect x="123.02" y="169.10" width="4.76" height="2.57" fill="#d9b5fb"/>
<rect x="127.49" y="169.10" width="4.76" height="2.57" fill="#dbb6fb"/>
<rect x="131.95" y="169.10" width="4.76" height="2.57" fill="#d9b4fb"/>
<rect x="136.41" y="169.10" width="4.76" height="2.57" fill="#dfbefb"/>
<rect x="140.87" y="169.10" width="4.76" height="2.57" fill="#dcb9fb"/>
<rect x="145.34" y="169.10" width="4.76" height="2.57" fill="#debcfb"/>
<rect x="29.30" y="171.37" width="4.76" height="2.57" fill="#ff5938"/>
<rect x="33.76" y="171.37" width="4.76" height="2.57" fill="#ff5132"/>
<rect x="38.23" y="171.37" width="4.76" height="2.57" fill="#ff4c2d"/>
<rect x="42.69" y="171.37" width="4.76" height="2.57" fill="#ff5535"/>
<rect x="47.15" y="171.37" width="4.76" height="2.57" fill="#ff6b4a"/>
<rect x="51.61" y="171.37" width="4.76" height="2.57" fill="#ff6746"/>
<rect x="56.08" y="171.37" width="4.76" height="2.57" fill="#dab5fb"/>
<rect x="60.54" y="171.37" width="4.76" height="2.57" fill="#d9b4fb"/>
<rect x="65.00" y="171.37" width="4.76" height="2.57" fill="#d7b1fb"/>
<rect x="69.47" y="171.37" width="4.76" height="2.57" fill="#dab5fb"/>
<rect x="73.93" y="171.37" width="4.76" height="2.57" fill="#ddbafb"/>
<rect x="78.39" y="171.37" width="4.76" height="2.57" fill="#debbfb"/>
<rect x="82.86" y="171.37" width="4.76" height="2.57" fill="#dbb7fb"/>
<rect x="87.32" y="171.37" width="4.76" height="2.57" fill="#d7b1fb"/>
<rect x="91.78" y="171.37" width="4.76" height="2.57" fill="#dbb7fb"/>
<rect x="96.24" y="171.37" width="4.76" height="2.57" fill="#dbb7fb"/>
<rect x="100.71" y="171.37" width="4.76" height="2.57" fill="#dab6fb"/>
<rect x="105.17" y="171.37" width="4.76" height="2.57" fill="#d9b3fb"/>
<rect x="109.63" y="171.37" width="4.76" height="2.57" fill="#ddbafb"/>
<rect x="114.10" y="171.37" width="4.76" height="2.57" fill="#d8b2fb"/>
<rect x="118.56" y="171.37" width="4.76" height="2.57" fill="#dab5fb"/>
<rect x="123.02" y="171.37" width="4.76" height="2.57" fill="#dbb8fb"/>
<rect x="127.49" y="171.37" width="4.76" height="2.57" fill="#dbb7fb"/>
<rect x="131.95" y="171.37" width="4.76" height="2.57" fill="#dab6fb"/>
<rect x="136.41" y="171.37" width="4.76" height="2.57" fill="#d9b5fb"/>
<rect x="140.87" y="171.37" width="4.76" height="2.57" fill="#d8b2fb"/>
<rect x="145.34" y="171.37" width="4.76" height="2.57" fill="#dbb6fb"/>
<rect x="29.30" y="173.64" width="4.76" height="2.57" fill="#ff0000"/>
<rect x="33.76" y="173.64" width="4.76" height="2.57" fill="#ff0000"/>
<rect x="38.23" y="173.64" width="4.76" height="2.57" fill="#ff0000"/>
<rect x="42.69" y="173.64" width="4.76" height="2.57" fill="#ff805f"/>
<rect x="47.15" y="173.64" width="4.76" height="2.57" fill="#ff8969"/>
<rect x="51.61" y="173.64" width="4.76" height="2.57" fill="#ff8e6e"/>
<rect x="56.08" y="173.64" width="4.76" height="2.57" fill="#debcfb"/>
<rect x="60.54" y="173.64" width="4.76" height="2.57" fill="#debbfb"/>
<rect x="65.00" y="173.64" width="4.76" height="2.57" fill="#dab6fb"/>
<rect x="69.47" y="173.64" width="4.76" height="2.57" fill="#dab6fb"/>
<rect x="73.93" y="173.64" width="4.76" height="2.57" fill="#dfbffb"/>
<rect x="78.39" y="173.64" width="4.76" height="2.57" fill="#dfbdfb"/>
<rect x="82.86" y="173.64" width="4.76" height="2.57" fill="#dbb6fb"/>
<rect x="87.32" y="173.64" width="4.76" height="2.57" fill="#dfbdfb"/>
<rect x="91.78" y="173.64" width="4.76" height="2.57" fill="#dfbffb"/>
<rect x="96.24" y="173.64" width="4.76" height="2.57" fill="#dbb7fb"/>
<rect x="100.71" y="173.64" width="4.76" height="2.57" fill="#debcfb"/>
<rect x="105.17" y="173.64" width="4.76" height="2.57" fill="#dbb7fb"/>
<rect x="109.63" y="173.64" width="4.76" height="2.57" fill="#dab6fb"/>
<rect x="114.10" y="173.64" width="4.76" height="2.57" fill="#c89cfb"/>
<rect x="118.56" y="173.64" width="4.76" height="2.57" fill="#debcfb"/>
<rect x="123.02" y="173.64" width="4.76" height="2.57" fill="#dcb9fb"/>
<rect x="127.49" y="173.64" width="4.76" height="2.57" fill="#ddbafb"/>
<rect x="131.95" y="173.64" width="4.76" height="2.57" fill="#dfbcfb"/>
<rect x="136.41" y="173.64" width="4.76" height="2.57" fill="#debcfb"/>
<rect x="140.87" y="173.64" width="4.76" height="2.57" fill="#dfbffb"/>
<rect x="145.34" y="173.64" width="4.76" height="2.57" fill="#e0befb"/>
<rect x="29.30" y="175.91" width="4.76" height="2.57" fill="#ff0000"/>
<rect x="33.76" y="175.91" width="4.76" height="2.57" fill="#ff0000"/>
<rect x="38.23" y="175.91" width="4.76" height="2.57" fill="#ff0000"/>
<rect x="42.69" y="175.91" width="4.76" height="2.57" fill="#ff8c6d"/>
<rect x="47.15" y="175.91" width="4.76" height="2.57" fill="#ff8463"/>
<rect x="51.61" y="175.91" width="4.76" height="2.57" fill="#ff8969"/>
<rect x="56.08" y="175.91" width="4.76" height="2.57" fill="#d9b4fb"/>
<rect x="60.54" y="175.91" width="4.76" height="2.57" fill="#dab5fb"/>
<rect x="65.00" y="175.91" width="4.76" height="2.57" fill="#dfbdfb"/>
<rect x="69.47" y="175.91" width="4.76" height="2.57" fill="#dfbffb"/>
<rect x="73.93" y="175.91" width="4.76" height="2.57" fill="#dbb7fb"/>
<rect x="78.39" y="175.91" width="4.76" height="2.57" fill="#dcb9fb"/>
<rect x="82.86" y="175.91" width="4.76" height="2.57" fill="#ddbbfb"/>
<rect x="87.32" y="175.91" width="4.76" height="2.57" fill="#d9b4fb"/>
<rect x="91.78" y="175.91" width="4.76" height="2.57" fill="#dfbdfb"/>
<rect x="96.24" y="175.91" width="4.76" height="2.57" fill="#ddbafb"/>
<rect x="100.71" y="175.91" width="4.76" height="2.57" fill="#debcfb"/>
<rect x="105.17" y="175.91" width="4.76" height="2.57" fill="#dab6fb"/>
<rect x="109.63" y="175.91" width="4.76" height="2.57" fill="#ddbafb"/>
<rect x="114.10" y="175.91" width="4.76" height="2.57" fill="#dfbdfb"/>
<rect x="118.56" y="175.91" width="4.76" height="2.57" fill="#d9b4fb"/>
<rect x="123.02" y="175.91" width="4.76" height="2.57" fill="#dab6fb"/>
<rect x="127.49" y="175.91" width="4.76" height="2.57" fill="#dfbefb"/>
<rect x="131.95" y="175.91" width="4.76" height="2.57" fill="#d9b4fb"/>
<rect x="136.41" y="175.91" width="4.76" height="2.57" fill="#dfbdfb"/>
<rect x="140.87" y="175.91" width="4.76" height="2.57" fill="#dcb8fb"/>
<rect x="145.34" y="175.91" width="4.76" height="2.57" fill="#dab6fb"/>
<rect x="29.30" y="178.19" width="4.76" height="2.57" fill="#ff0000"/>
<rect x="33.76" y="178.19" width="4.76" height="2.57" fill="#ff5b3a"/>
<rect x="38.23" y="178.19" width="4.76" height="2.57" fill="#ff5b3a"/>
<rect x="42.69" y="178.19" width="4.76" height="2.57" fill="#ff9e81"/>
<rect x="47.15" y="178.19" width="4.76" height="2.57" fill="#ff9e81"/>
<rect x="51.61" y="178.19" width="4.76" height="2.57" fill="#ff9e81"/>
<rect x="56.08" y="178.19" width="4.76" height="2.57" fill="#d6b0fb"/>
<rect x="60.54" y="178.19" width="4.76" height="2.57" fill="#d9b4fb"/>
<rect x="65.00" y="178.19" width="4.76" height="2.57" fill="#dbb6fb"/>
<rect x="69.47" y="178.19" width="4.76" height="2.57" fill="#f6e9fd"/>
<rect x="73.93" y="178.19" width="4.76" height="2.57" fill="#d9b4fb"/>
<rect x="78.39" y="178.19" width="4.76" height="2.57" fill="#dab5fb"/>
<rect x="82.86" y="178.19" width="4.76" height="2.57" fill="#d6b0fb"/>
<rect x="87.32" y="178.19" width="4.76" height="2.57" fill="#dbb7fb"/>
<rect x="91.78" y="178.19" width="4.76" height="2.57" fill="#d8b3fb"/>
<rect x="96.24" y="178.19" width="4.76" height="2.57" fill="#d8b3fb"/>
<rect x="100.71" y="178.19" width="4.76" height="2.57" fill="#dab6fb"/>
<rect x="105.17" y="178.19" width="4.76" height="2.57" fill="#debbfb"/>
<rect x="109.63" y="178.19" width="4.76" height="2.57" fill="#dab6fb"/>
<rect x="114.10" y="178.19" width="4.76" height="2.57" fill="#ddbafb"/>
<rect x="118.56" y="178.19" width="4.76" height="2.57" fill="#dbb7fb"/>
<rect x="123.02" y="178.19" width="4.76" height="2.57" fill="#d9b4fb"/>
<rect x="127.49" y="178.19" width="4.76" height="2.57" fill="#dcb9fb"/>
<rect x="131.95" y="178.19" width="4.76" height="2.57" fill="#ddbafb"/>
<rect x="136.41" y="178.19" width="4.76" height="2.57" fill="#d8b3fb"/>
<rect x="140.87" y="178.19" width="4.76" height="2.57" fill="#dcb8fb"/>
<rect x="145.34" y="178.19" width="4.76" height="2.57" fill="#dbb7fb"/>
<rect x="29.30" y="180.46" width="4.76" height="2.57" fill="#ff0000"/>
<rect x="33.76" y="180.46" width="4.76" height="2.57" fill="#ffe2d8"/>
<rect x="38.23" y="180.46" width="4.76" height="2.57" fill="#ffece5"/>
<rect x="42.69" y="180.46" width="4.76" height="2.57" fill="#ffffff"/>
<rect x="47.15" y="180.46" width="4.76" height="2.57" fill="#f0dcfc"/>
<rect x="51.61" y="180.46" width="4.76" height="2.57" fill="#f5e7fd"/>
<rect x="56.08" y="180.46" width="4.76" height="2.57" fill="#f0dcfc"/>
<rect x="60.54" y="180.46" width="4.76" height="2.57" fill="#ffe2d8"/>
<rect x="65.00" y="180.46" width="4.76" height="2.57" fill="#e3c4fb"/>
<rect x="69.47" y="180.46" width="4.76" height="2.57" fill="#ff0000"/>
<rect x="73.93" y="180.46" width="4.76" height="2.57" fill="#f5e7fd"/>
<rect x="78.39" y="180.46" width="4.76" height="2.57" fill="#dcb9fb"/>
<rect x="82.86" y="180.46" width="4.76" height="2.57" fill="#c497fb"/>
<rect x="87.32" y="180.46" width="4.76" height="2.57" fill="#dcb9fb"/>
<rect x="91.78" y="180.46" width="4.76" height="2.57" fill="#e9d0fc"/>
<rect x="96.24" y="180.46" width="4.76" height="2.57" fill="#e3c4fb"/>
<rect x="100.71" y="180.46" width="4.76" height="2.57" fill="#ffc6b2"/>
<rect x="105.17" y="180.46" width="4.76" height="2.57" fill="#f0dcfc"/>
<rect x="109.63" y="180.46" width="4.76" height="2.57" fill="#f5e7fd"/>
<rect x="114.10" y="180.46" width="4.76" height="2.57" fill="#f0dcfc"/>
<rect x="118.56" y="180.46" width="4.76" height="2.57" fill="#fff5f2"/>
<rect x="123.02" y="180.46" width="4.76" height="2.57" fill="#cda2fb"/>
<rect x="127.49" y="180.46" width="4.76" height="2.57" fill="#e3c4fb"/>
<rect x="131.95" y="180.46" width="4.76" height="2.57" fill="#f0dcfc"/>
<rect x="136.41" y="180.46" width="4.76" height="2.57" fill="#e9d0fc"/>
<rect x="140.87" y="180.46" width="4.76" height="2.57" fill="#ffcfbf"/>
<rect x="145.34" y="180.46" width="4.76" height="2.57" fill="#f0dcfc"/>
<rect x="29.30" y="182.73" width="4.76" height="2.57" fill="#ff0000"/>
<rect x="33.76" y="182.73" width="4.76" height="2.57" fill="#ffffff"/>
<rect x="38.23" y="182.73" width="4.76" height="2.57" fill="#ff0000"/>
<rect x="42.69" y="182.73" width="4.76" height="2.57" fill="#ffffff"/>
<rect x="47.15" y="182.73" width="4.76" height="2.57" fill="#f0dcfc"/>
<rect x="51.61" y="182.73" width="4.76" height="2.57" fill="#ffcfbf"/>
<rect x="56.08" y="182.73" width="4.76" height="2.57" fill="#e9d0fc"/>
<rect x="60.54" y="182.73" width="4.76" height="2.57" fill="#e9d0fc"/>
<rect x="65.00" y="182.73" width="4.76" height="2.57" fill="#dcb9fb"/>
<rect x="69.47" y="182.73" width="4.76" height="2.57" fill="#ffcfbf"/>
<rect x="73.93" y="182.73" width="4.76" height="2.57" fill="#ffece5"/>
<rect x="78.39" y="182.73" width="4.76" height="2.57" fill="#dcb9fb"/>
<rect x="82.86" y="182.73" width="4.76" height="2.57" fill="#f0dcfc"/>
<rect x="87.32" y="182.73" width="4.76" height="2.57" fill="#e3c4fb"/>
<rect x="91.78" y="182.73" width="4.76" height="2.57" fill="#ffece5"/>
<rect x="96.24" y="182.73" width="4.76" height="2.57" fill="#ffc6b2"/>
<rect x="100.71" y="182.73" width="4.76" height="2.57" fill="#dcb9fb"/>
<rect x="105.17" y="182.73" width="4.76" height="2.57" fill="#f0dcfc"/>
<rect x="109.63" y="182.73" width="4.76" height="2.57" fill="#e3c4fb"/>
<rect x="114.10" y="182.73" width="4.76" height="2.57" fill="#fff5f2"/>
<rect x="118.56" y="182.73" width="4.76" height="2.57" fill="#dcb9fb"/>
<rect x="123.02" y="182.73" width="4.76" height="2.57" fill="#f5e7fd"/>
<rect x="127.49" y="182.73" width="4.76" height="2.57" fill="#e9d0fc"/>
<rect x="131.95" y="182.73" width="4.76" height="2.57" fill="#ffffff"/>
<rect x="136.41" y="182.73" width="4.76" height="2.57" fill="#ffc6b2"/>
<rect x="140.87" y="182.73" width="4.76" height="2.57" fill="#ffcfbf"/>
<rect x="145.34" y="182.73" width="4.76" height="2.57" fill="#e9d0fc"/>
</g>
<rect x="29.30" y="47.9" width="13.59" height="8.3" fill="#ff0000"/>
<rect x="42.69" y="47.9" width="13.59" height="8.3" fill="#1ec0f0"/>
<rect x="56.08" y="47.9" width="13.59" height="8.3" fill="#f564e3"/>
<rect x="69.47" y="47.9" width="13.59" height="8.3" fill="#22b522"/>
<rect x="82.86" y="47.9" width="13.59" height="8.3" fill="#8aa51c"/>
<rect x="96.24" y="47.9" width="13.59" height="8.3" fill="#e0900a"/>
<rect x="109.63" y="47.9" width="13.59" height="8.3" fill="#ee6ef0"/>
<rect x="123.02" y="47.9" width="13.59" height="8.3" fill="#1cb79e"/>
<rect x="136.41" y="47.9" width="13.59" height="8.3" fill="#f8766d"/>
<text x="151.2" y="55.1" font-size="7.2" font-weight="bold" fill="#333">cell</text>
<g stroke="#666" stroke-width="0.6" fill="none">
<path d="M41.5,44.8 V31.1 H74.4 V44.3"/>
</g>
<g stroke="#888" stroke-width="0.45" fill="none">
<path d="M31.5,47.8 V47.2 H36.0 V47.8 M33.8,47.2 V46.4 H40.5 V47.8 M44.9,47.8 V47.2 H49.4 V47.8 M47.2,47.2 V46.1 H53.8 V47.8 M58.3,47.8 V47.2 H62.8 V47.8 M60.5,47.2 V45.9 H67.2 V47.8 M71.7,47.8 V47.2 H76.2 V47.8 M73.9,47.2 V46.4 H80.6 V47.8 M85.1,47.8 V47.2 H89.6 V47.8 M87.3,47.2 V46.1 H94.0 V47.8 M98.5,47.8 V47.2 H102.9 V47.8 M100.7,47.2 V45.9 H107.4 V47.8 M111.9,47.8 V47.2 H116.3 V47.8 M114.1,47.2 V46.4 H120.8 V47.8 M125.3,47.8 V47.2 H129.7 V47.8 M127.5,47.2 V46.1 H134.2 V47.8 M138.6,47.8 V47.2 H143.1 V47.8 M140.9,47.2 V45.9 H147.6 V47.8 M37.1,46.4 V45.3 H50.5 V46.1 M130.8,46.1 V45.6 H144.2 V45.9 M117.4,46.4 V45.3 H137.5 V45.6 M104.1,45.9 V45.0 H127.5 V45.3 M90.7,46.1 V44.8 H115.8 V45.0 M77.3,46.4 V44.6 H103.2 V44.8 M63.9,45.9 V44.4 H90.2 V44.6 "/>
</g>
<text x="77" y="27.3" font-size="7" fill="#222">(n = 56)</text>
<g stroke="#666" stroke-width="0.7" fill="none">
<path d="M25.5,61.5 H10.5 V105.4 H24.3"/>
<path d="M24.3,75 V135 M24.3,75 H28.5"/>
<path d="M26,76.5 V184 Q26,185 28.5,185 M27.3,88 V182 M26,80 H28.5 M27.3,120 H28.5"/>
<path d="M25.5,58.5 V72.5 M25.5,59 H28.5 M25.5,66 H28.5 M26.7,61 V70.5 M26.7,72 H28.5"/>
</g>
<g stroke="#666" stroke-width="0.65" fill="none">
<path d="M153.3,66 C156.2,66 156.6,62.3 160.2,62.3"/>
<path d="M152.3,67.6 H154.8 M152.3,69.1 H155.3 M152.3,70.6 H154.8"/>
<path d="M153.5,69.6 C157,69.6 156.6,71.8 160.2,71.8"/>
<path d="M153.8,71.6 L156.3,75.5 V88 Q156.3,90.2 159.8,90.2 M156.3,81 H159.8"/>
</g>
<text x="162.1" y="65.8" font-size="7.6" fill="#333">USP6</text>
<text x="162.1" y="74.7" font-size="7.6" fill="#333">USP27X</text>
<text x="162.1" y="83.2" font-size="7.6" fill="#333">USP43</text>
<text x="162.1" y="92.2" font-size="7.6" fill="#333">USP41</text>
<defs><linearGradient id="zg" x1="0" y1="0" x2="0" y2="1">
<stop offset="0.000" stop-color="#ff0000"/>
<stop offset="0.050" stop-color="#ff3e22"/>
<stop offset="0.100" stop-color="#ff5b3a"/>
<stop offset="0.150" stop-color="#ff7352"/>
<stop offset="0.200" stop-color="#ff8969"/>
<stop offset="0.250" stop-color="#ff9e81"/>
<stop offset="0.300" stop-color="#ffb299"/>
<stop offset="0.350" stop-color="#ffc6b2"/>
<stop offset="0.400" stop-color="#ffd9cb"/>
<stop offset="0.450" stop-color="#ffece5"/>
<stop offset="0.500" stop-color="#ffffff"/>
<stop offset="0.550" stop-color="#f5e7fd"/>
<stop offset="0.600" stop-color="#e9d0fc"/>
<stop offset="0.650" stop-color="#dcb9fb"/>
<stop offset="0.700" stop-color="#cda2fb"/>
<stop offset="0.750" stop-color="#bb8bfb"/>
<stop offset="0.800" stop-color="#a674fc"/>
<stop offset="0.850" stop-color="#8d5dfd"/>
<stop offset="0.900" stop-color="#7145ff"/>
<stop offset="0.950" stop-color="#502bff"/>
<stop offset="1.000" stop-color="#0000ff"/>
</linearGradient></defs>
<rect x="193.5" y="96" width="8" height="34.3" fill="url(#zg)"/>
<text x="194" y="93.2" font-size="6.1" font-weight="bold" fill="#222">Row Z score</text>
<text x="203" y="99.8" font-size="6" fill="#333">2</text>
<text x="203" y="108.0" font-size="6" fill="#333">1</text>
<text x="203" y="115.6" font-size="6" fill="#333">0</text>
<text x="203" y="123.3" font-size="6" fill="#333">-1</text>
<text x="203" y="131.1" font-size="6" fill="#333">-2</text>
<text x="234" y="93.2" font-size="6.1" font-weight="bold" fill="#222">cell</text>
<rect x="234.2" y="96.40" width="6.8" height="6.37" fill="#1ec0f0"/>
<text x="243" y="101.70" font-size="6.1" fill="#333">MSCs</text>
<rect x="234.2" y="102.77" width="6.8" height="6.37" fill="#ff0000"/>
<text x="243" y="108.07" font-size="6.1" fill="#333">OB</text>
<rect x="234.2" y="109.14" width="6.8" height="6.37" fill="#8aa51c"/>
<text x="243" y="114.44" font-size="6.1" fill="#333">G292</text>
<rect x="234.2" y="115.51" width="6.8" height="6.37" fill="#22b522"/>
<text x="243" y="120.81" font-size="6.1" fill="#333">MG63</text>
<rect x="234.2" y="121.88" width="6.8" height="6.37" fill="#1cb79e"/>
<text x="243" y="127.18" font-size="6.1" fill="#333">MNNG</text>
<rect x="234.2" y="128.25" width="6.8" height="6.37" fill="#f8766d"/>
<text x="243" y="133.55" font-size="6.1" fill="#333">KHOS</text>
<rect x="234.2" y="134.62" width="6.8" height="6.37" fill="#e0900a"/>
<text x="243" y="139.92" font-size="6.1" fill="#333">SAOS2</text>
<rect x="234.2" y="140.99" width="6.8" height="6.37" fill="#ee6ef0"/>
<text x="243" y="146.29" font-size="6.1" fill="#333">SJSA1</text>
<rect x="234.2" y="147.36" width="6.8" height="6.37" fill="#f564e3"/>
<text x="243" y="152.66" font-size="6.1" fill="#333">U2OS</text>
<text x="6.6" y="25.6" font-size="12.3" fill="#111">A</text>
<text x="275.3" y="18.8" font-size="12" fill="#111">B</text>
<text x="66" y="231.3" font-size="12.5" fill="#111">C</text>
<text x="306.8" y="22.0" font-size="11" letter-spacing="0.3" fill="#111">USP6</text>
<path d="M307.5,28.9 V100.1 H398.7" stroke="#333" stroke-width="1.3" fill="none"/>
<path d="M304.7,91.50 H307.5" stroke="#333" stroke-width="0.8"/>
<text x="302.2" y="93.70" font-size="6.2" fill="#4d4d4d" text-anchor="end">4</text>
<path d="M304.7,80.66 H307.5" stroke="#333" stroke-width="0.8"/>
<text x="302.2" y="82.86" font-size="6.2" fill="#4d4d4d" text-anchor="end">6</text>
<path d="M304.7,69.82 H307.5" stroke="#333" stroke-width="0.8"/>
<text x="302.2" y="72.02" font-size="6.2" fill="#4d4d4d" text-anchor="end">8</text>
<path d="M304.7,58.98 H307.5" stroke="#333" stroke-width="0.8"/>
<text x="302.2" y="61.18" font-size="6.2" fill="#4d4d4d" text-anchor="end">10</text>
<path d="M304.7,48.14 H307.5" stroke="#333" stroke-width="0.8"/>
<text x="302.2" y="50.34" font-size="6.2" fill="#4d4d4d" text-anchor="end">12</text>
<path d="M304.7,37.30 H307.5" stroke="#333" stroke-width="0.8"/>
<text x="302.2" y="39.50" font-size="6.2" fill="#4d4d4d" text-anchor="end">14</text>
<path d="M324.2,100.1 V102.3" stroke="#333" stroke-width="0.8"/>
<text x="324.2" y="109.2" font-size="7.2" fill="#4d4d4d" text-anchor="middle">MSCs</text>
<path d="M352.7,100.1 V102.3" stroke="#333" stroke-width="0.8"/>
<text x="352.7" y="109.2" font-size="7.2" fill="#4d4d4d" text-anchor="middle">OB</text>
<path d="M381.5,100.1 V102.3" stroke="#333" stroke-width="0.8"/>
<text x="381.5" y="109.2" font-size="7.2" fill="#4d4d4d" text-anchor="middle">OS</text>
<text transform="translate(289.9,64.5) rotate(-90)" font-size="8.5" fill="#111" text-anchor="middle">log2(count + 1)</text>
<path d="M323.7,35.1 H382.0 M352.4,41.5 H382.0" stroke="#8ea0b4" stroke-width="0.9"/>
<rect x="348.60" y="30.15" width="1.3" height="1.3" fill="#6d8299"/>
<rect x="351.00" y="30.15" width="1.3" height="1.3" fill="#6d8299"/>
<rect x="353.40" y="30.15" width="1.3" height="1.3" fill="#6d8299"/>
<rect x="355.80" y="30.15" width="1.3" height="1.3" fill="#6d8299"/>
<rect x="362.85" y="36.85" width="1.3" height="1.3" fill="#6d8299"/>
<rect x="365.25" y="36.85" width="1.3" height="1.3" fill="#6d8299"/>
<rect x="367.65" y="36.85" width="1.3" height="1.3" fill="#6d8299"/>
<rect x="370.05" y="36.85" width="1.3" height="1.3" fill="#6d8299"/>
<rect x="318.10" y="77.66" width="12.20" height="2.74" fill="#12bff6" rx="1"/>
<ellipse cx="324.20" cy="78.90" rx="2.70" ry="1.90" fill="#12bff6"/>
<rect x="346.60" y="74.95" width="12.20" height="2.74" fill="#f00000" rx="1"/>
<ellipse cx="352.70" cy="76.19" rx="2.70" ry="1.90" fill="#f00000"/>
<rect x="375.40" y="62.18" width="12.20" height="5.53" fill="none" stroke="#d070f8" stroke-width="1.0"/>
<path d="M375.40,65.38 H387.60" stroke="#d070f8" stroke-width="1.0"/>
<path d="M381.50,58.51 V69.58" stroke="#b000f0" stroke-width="2.4" stroke-linecap="round"/>
<circle cx="381.50" cy="58.98" r="1.5" fill="#b000f0"/>
<circle cx="381.50" cy="61.15" r="1.5" fill="#b000f0"/>
<circle cx="381.50" cy="64.94" r="1.5" fill="#b000f0"/>
<circle cx="381.50" cy="67.11" r="1.5" fill="#b000f0"/>
<circle cx="381.50" cy="69.28" r="1.5" fill="#b000f0"/>
<text x="448.7" y="22.0" font-size="11" letter-spacing="0.3" fill="#111">USP27X</text>
<path d="M449.4,28.7 V100.2 H540.6" stroke="#333" stroke-width="1.3" fill="none"/>
<path d="M446.6,91.50 H449.4" stroke="#333" stroke-width="0.8"/>
<text x="444.1" y="93.70" font-size="6.2" fill="#4d4d4d" text-anchor="end">4</text>
<path d="M446.6,80.66 H449.4" stroke="#333" stroke-width="0.8"/>
<text x="444.1" y="82.86" font-size="6.2" fill="#4d4d4d" text-anchor="end">6</text>
<path d="M446.6,69.82 H449.4" stroke="#333" stroke-width="0.8"/>
<text x="444.1" y="72.02" font-size="6.2" fill="#4d4d4d" text-anchor="end">8</text>
<path d="M446.6,58.98 H449.4" stroke="#333" stroke-width="0.8"/>
<text x="444.1" y="61.18" font-size="6.2" fill="#4d4d4d" text-anchor="end">10</text>
<path d="M446.6,48.14 H449.4" stroke="#333" stroke-width="0.8"/>
<text x="444.1" y="50.34" font-size="6.2" fill="#4d4d4d" text-anchor="end">12</text>
<path d="M446.6,37.30 H449.4" stroke="#333" stroke-width="0.8"/>
<text x="444.1" y="39.50" font-size="6.2" fill="#4d4d4d" text-anchor="end">14</text>
<path d="M466.1,100.2 V102.4" stroke="#333" stroke-width="0.8"/>
<text x="466.1" y="109.3" font-size="7.2" fill="#4d4d4d" text-anchor="middle">MSCs</text>
<path d="M494.6,100.2 V102.4" stroke="#333" stroke-width="0.8"/>
<text x="494.6" y="109.3" font-size="7.2" fill="#4d4d4d" text-anchor="middle">OB</text>
<path d="M523.4,100.2 V102.4" stroke="#333" stroke-width="0.8"/>
<text x="523.4" y="109.3" font-size="7.2" fill="#4d4d4d" text-anchor="middle">OS</text>
<text transform="translate(431.8,64.5) rotate(-90)" font-size="8.5" fill="#111" text-anchor="middle">log2(count + 1)</text>
<path d="M465.6,34.9 H523.9 M494.3,41.3 H523.9" stroke="#8ea0b4" stroke-width="0.9"/>
<rect x="490.50" y="29.95" width="1.3" height="1.3" fill="#6d8299"/>
<rect x="492.90" y="29.95" width="1.3" height="1.3" fill="#6d8299"/>
<rect x="495.30" y="29.95" width="1.3" height="1.3" fill="#6d8299"/>
<rect x="497.70" y="29.95" width="1.3" height="1.3" fill="#6d8299"/>
<rect x="504.75" y="36.65" width="1.3" height="1.3" fill="#6d8299"/>
<rect x="507.15" y="36.65" width="1.3" height="1.3" fill="#6d8299"/>
<rect x="509.55" y="36.65" width="1.3" height="1.3" fill="#6d8299"/>
<rect x="511.95" y="36.65" width="1.3" height="1.3" fill="#6d8299"/>
<rect x="460.00" y="70.62" width="12.20" height="2.74" fill="#12bff6" rx="1"/>
<ellipse cx="466.10" cy="71.72" rx="2.70" ry="1.91" fill="#12bff6"/>
<rect x="488.50" y="71.97" width="12.20" height="3.28" fill="#f00000" rx="1"/>
<ellipse cx="494.60" cy="73.61" rx="2.70" ry="2.73" fill="#f00000"/>
<rect x="517.30" y="49.28" width="12.20" height="6.23" fill="none" stroke="#d070f8" stroke-width="1.0"/>
<path d="M517.30,52.48 H529.50" stroke="#d070f8" stroke-width="1.0"/>
<path d="M523.40,46.70 V59.83" stroke="#b000f0" stroke-width="2.4" stroke-linecap="round"/>
<circle cx="523.40" cy="47.06" r="1.5" fill="#b000f0"/>
<circle cx="523.40" cy="49.77" r="1.5" fill="#b000f0"/>
<circle cx="523.40" cy="53.02" r="1.5" fill="#b000f0"/>
<circle cx="523.40" cy="56.81" r="1.5" fill="#b000f0"/>
<circle cx="523.40" cy="59.52" r="1.5" fill="#b000f0"/>
<text x="307.3" y="126.7" font-size="11" letter-spacing="0.3" fill="#111">USP41</text>
<path d="M308.0,134.2 V204.1 H399.2" stroke="#333" stroke-width="1.3" fill="none"/>
<path d="M305.2,195.80 H308.0" stroke="#333" stroke-width="0.8"/>
<text x="302.7" y="198.00" font-size="6.2" fill="#4d4d4d" text-anchor="end">4</text>
<path d="M305.2,185.12 H308.0" stroke="#333" stroke-width="0.8"/>
<text x="302.7" y="187.32" font-size="6.2" fill="#4d4d4d" text-anchor="end">6</text>
<path d="M305.2,174.44 H308.0" stroke="#333" stroke-width="0.8"/>
<text x="302.7" y="176.64" font-size="6.2" fill="#4d4d4d" text-anchor="end">8</text>
<path d="M305.2,163.76 H308.0" stroke="#333" stroke-width="0.8"/>
<text x="302.7" y="165.96" font-size="6.2" fill="#4d4d4d" text-anchor="end">10</text>
<path d="M305.2,153.08 H308.0" stroke="#333" stroke-width="0.8"/>
<text x="302.7" y="155.28" font-size="6.2" fill="#4d4d4d" text-anchor="end">12</text>
<path d="M305.2,142.40 H308.0" stroke="#333" stroke-width="0.8"/>
<text x="302.7" y="144.60" font-size="6.2" fill="#4d4d4d" text-anchor="end">14</text>
<path d="M324.7,204.1 V206.3" stroke="#333" stroke-width="0.8"/>
<text x="324.7" y="213.2" font-size="7.2" fill="#4d4d4d" text-anchor="middle">MSCs</text>
<path d="M353.2,204.1 V206.3" stroke="#333" stroke-width="0.8"/>
<text x="353.2" y="213.2" font-size="7.2" fill="#4d4d4d" text-anchor="middle">OB</text>
<path d="M382.0,204.1 V206.3" stroke="#333" stroke-width="0.8"/>
<text x="382.0" y="213.2" font-size="7.2" fill="#4d4d4d" text-anchor="middle">OS</text>
<text transform="translate(290.4,169.1) rotate(-90)" font-size="8.5" fill="#111" text-anchor="middle">log2(count + 1)</text>
<path d="M324.2,139.0 H382.5 M352.9,145.3 H382.5" stroke="#8ea0b4" stroke-width="0.9"/>
<rect x="349.10" y="134.05" width="1.3" height="1.3" fill="#6d8299"/>
<rect x="351.50" y="134.05" width="1.3" height="1.3" fill="#6d8299"/>
<rect x="353.90" y="134.05" width="1.3" height="1.3" fill="#6d8299"/>
<rect x="356.30" y="134.05" width="1.3" height="1.3" fill="#6d8299"/>
<rect x="363.35" y="140.65" width="1.3" height="1.3" fill="#6d8299"/>
<rect x="365.75" y="140.65" width="1.3" height="1.3" fill="#6d8299"/>
<rect x="368.15" y="140.65" width="1.3" height="1.3" fill="#6d8299"/>
<rect x="370.55" y="140.65" width="1.3" height="1.3" fill="#6d8299"/>
<rect x="318.60" y="191.50" width="12.20" height="3.80" fill="#12bff6" rx="1"/>
<ellipse cx="324.70" cy="193.40" rx="2.40" ry="3.24" fill="#12bff6"/>
<rect x="347.10" y="192.83" width="12.20" height="2.73" fill="#f00000" rx="1"/>
<ellipse cx="353.20" cy="194.20" rx="2.70" ry="1.90" fill="#f00000"/>
<rect x="375.90" y="157.69" width="12.20" height="2.0" fill="#b000f0" rx="0.8"/>
<path d="M382.00,154.38 V163.90" stroke="#b000f0" stroke-width="2.2" stroke-linecap="round"/>
<ellipse cx="382.00" cy="155.48" rx="2.4" ry="0.9" fill="#b000f0"/>
<ellipse cx="382.00" cy="161.62" rx="2.4" ry="0.9" fill="#b000f0"/>
<text x="448.7" y="126.7" font-size="11" letter-spacing="0.3" fill="#111">USP43</text>
<path d="M449.4,134.2 V204.1 H540.6" stroke="#333" stroke-width="1.3" fill="none"/>
<path d="M446.6,195.80 H449.4" stroke="#333" stroke-width="0.8"/>
<text x="444.1" y="198.00" font-size="6.2" fill="#4d4d4d" text-anchor="end">4</text>
<path d="M446.6,185.12 H449.4" stroke="#333" stroke-width="0.8"/>
<text x="444.1" y="187.32" font-size="6.2" fill="#4d4d4d" text-anchor="end">6</text>
<path d="M446.6,174.44 H449.4" stroke="#333" stroke-width="0.8"/>
<text x="444.1" y="176.64" font-size="6.2" fill="#4d4d4d" text-anchor="end">8</text>
<path d="M446.6,163.76 H449.4" stroke="#333" stroke-width="0.8"/>
<text x="444.1" y="165.96" font-size="6.2" fill="#4d4d4d" text-anchor="end">10</text>
<path d="M446.6,153.08 H449.4" stroke="#333" stroke-width="0.8"/>
<text x="444.1" y="155.28" font-size="6.2" fill="#4d4d4d" text-anchor="end">12</text>
<path d="M446.6,142.40 H449.4" stroke="#333" stroke-width="0.8"/>
<text x="444.1" y="144.60" font-size="6.2" fill="#4d4d4d" text-anchor="end">14</text>
<path d="M466.1,204.1 V206.3" stroke="#333" stroke-width="0.8"/>
<text x="466.1" y="213.2" font-size="7.2" fill="#4d4d4d" text-anchor="middle">MSCs</text>
<path d="M494.6,204.1 V206.3" stroke="#333" stroke-width="0.8"/>
<text x="494.6" y="213.2" font-size="7.2" fill="#4d4d4d" text-anchor="middle">OB</text>
<path d="M523.4,204.1 V206.3" stroke="#333" stroke-width="0.8"/>
<text x="523.4" y="213.2" font-size="7.2" fill="#4d4d4d" text-anchor="middle">OS</text>
<text transform="translate(431.8,169.1) rotate(-90)" font-size="8.5" fill="#111" text-anchor="middle">log2(count + 1)</text>
<path d="M465.6,139.0 H523.9 M494.3,145.3 H523.9" stroke="#8ea0b4" stroke-width="0.9"/>
<rect x="490.50" y="134.05" width="1.3" height="1.3" fill="#6d8299"/>
<rect x="492.90" y="134.05" width="1.3" height="1.3" fill="#6d8299"/>
<rect x="495.30" y="134.05" width="1.3" height="1.3" fill="#6d8299"/>
<rect x="497.70" y="134.05" width="1.3" height="1.3" fill="#6d8299"/>
<rect x="504.75" y="140.65" width="1.3" height="1.3" fill="#6d8299"/>
<rect x="507.15" y="140.65" width="1.3" height="1.3" fill="#6d8299"/>
<rect x="509.55" y="140.65" width="1.3" height="1.3" fill="#6d8299"/>
<rect x="511.95" y="140.65" width="1.3" height="1.3" fill="#6d8299"/>
<rect x="460.00" y="190.96" width="12.20" height="3.00" fill="#12bff6" rx="1"/>
<ellipse cx="466.10" cy="192.46" rx="2.70" ry="2.03" fill="#12bff6"/>
<rect x="488.50" y="180.58" width="12.20" height="3.31" fill="none" stroke="#f00000" stroke-width="1.0"/>
<path d="M488.50,182.50 H500.70" stroke="#f00000" stroke-width="1.0"/>
<path d="M494.60,178.58 V184.88" stroke="#f00000" stroke-width="1.6" stroke-linecap="round"/>
<circle cx="494.60" cy="178.71" r="1.5" fill="#f00000"/>
<circle cx="494.60" cy="184.59" r="1.5" fill="#f00000"/>
<rect x="517.30" y="149.02" width="12.20" height="9.40" fill="none" stroke="#d070f8" stroke-width="1.0"/>
<path d="M517.30,156.39 H529.50" stroke="#d070f8" stroke-width="1.0"/>
<path d="M523.40,147.82 V161.28" stroke="#b000f0" stroke-width="1.6" stroke-linecap="round"/>
<circle cx="523.40" cy="148.01" r="1.5" fill="#b000f0"/>
<circle cx="523.40" cy="153.08" r="1.5" fill="#b000f0"/>
<circle cx="523.40" cy="156.82" r="1.5" fill="#b000f0"/>
<circle cx="523.40" cy="160.56" r="1.5" fill="#b000f0"/>
<text x="193.2" y="239.4" font-size="7" font-weight="bold" fill="#111" text-anchor="middle" letter-spacing="2.3">USP6</text>
<text transform="translate(93.1,303.7) rotate(-90)" font-size="7" font-weight="bold" fill="#111" text-anchor="middle" letter-spacing="0.79">Relative gene expression (% MSCs)</text>
<path d="M131.25,347.05 V343.61 M124.95,343.61 H137.55" stroke="#000" stroke-width="1.3"/>
<rect x="118.20" y="347.75" width="26.10" height="6.85" fill="#7cc0f5" stroke="#000" stroke-width="1.4"/>
<path d="M172.05,338.12 V335.03 M165.75,335.03 H178.35" stroke="#000" stroke-width="1.3"/>
<rect x="159.30" y="338.82" width="25.50" height="15.78" fill="#d400f0" stroke="#000" stroke-width="1.4"/>
<path d="M212.20,343.27 V340.87 M205.90,340.87 H218.50" stroke="#000" stroke-width="1.3"/>
<rect x="199.10" y="343.97" width="26.20" height="10.63" fill="#d400f0" stroke="#000" stroke-width="1.4"/>
<path d="M252.65,282.50 V263.96 M246.35,263.96 H258.95" stroke="#000" stroke-width="1.3"/>
<rect x="239.10" y="283.20" width="27.10" height="71.40" fill="#d400f0" stroke="#000" stroke-width="1.4"/>
<path d="M111.2,251.6 V354.6 H273.0" stroke="#000" stroke-width="1.1" fill="none"/>
<path d="M108.0,354.60 H111.2" stroke="#000" stroke-width="0.9"/>
<text x="107.0" y="357.20" font-size="5.4" font-weight="bold" fill="#111" text-anchor="end" letter-spacing="0.8">0</text>
<path d="M108.0,320.27 H111.2" stroke="#000" stroke-width="0.9"/>
<text x="107.0" y="322.87" font-size="5.4" font-weight="bold" fill="#111" text-anchor="end" letter-spacing="0.8">5</text>
<path d="M108.0,285.93 H111.2" stroke="#000" stroke-width="0.9"/>
<text x="107.0" y="288.53" font-size="5.4" font-weight="bold" fill="#111" text-anchor="end" letter-spacing="0.8">10</text>
<path d="M108.0,251.60 H111.2" stroke="#000" stroke-width="0.9"/>
<text x="107.0" y="254.20" font-size="5.4" font-weight="bold" fill="#111" text-anchor="end" letter-spacing="0.8">15</text>
<path d="M131.25,354.6 V357.6" stroke="#000" stroke-width="0.9"/>
<text transform="translate(133.1,364.1) rotate(-45)" font-size="5.9" font-weight="bold" fill="#111" text-anchor="end" letter-spacing="1.45">MSCs</text>
<path d="M172.05,354.6 V357.6" stroke="#000" stroke-width="0.9"/>
<text transform="translate(173.9,364.1) rotate(-45)" font-size="5.9" font-weight="bold" fill="#111" text-anchor="end" letter-spacing="1.45">HOS</text>
<path d="M212.20,354.6 V357.6" stroke="#000" stroke-width="0.9"/>
<text transform="translate(214.0,364.1) rotate(-45)" font-size="5.9" font-weight="bold" fill="#111" text-anchor="end" letter-spacing="1.45">MG63</text>
<path d="M252.65,354.6 V357.6" stroke="#000" stroke-width="0.9"/>
<text transform="translate(254.4,364.1) rotate(-45)" font-size="5.9" font-weight="bold" fill="#111" text-anchor="end" letter-spacing="1.45">U2OS</text>
<path d="M170.70,315.20 L170.70,323.00 M167.32,317.15 L174.08,321.05 M167.32,321.05 L174.08,317.15 " stroke="#000" stroke-width="1.45"/>
<circle cx="170.70" cy="319.10" r="1.5" fill="#000"/>
<path d="M251.50,245.20 L251.50,253.00 M248.12,247.15 L254.88,251.05 M248.12,251.05 L254.88,247.15 " stroke="#000" stroke-width="1.45"/>
<circle cx="251.50" cy="249.10" r="1.5" fill="#000"/>
<text x="386.6" y="238.9" font-size="7" font-weight="bold" fill="#111" text-anchor="middle" letter-spacing="2.3">USP27x</text>
<text transform="translate(288.1,304.2) rotate(-90)" font-size="7" font-weight="bold" fill="#111" text-anchor="middle" letter-spacing="0.79">Relative gene expression (% MSCs)</text>
<path d="M325.20,349.07 V344.97 M318.90,344.97 H331.50" stroke="#000" stroke-width="1.3"/>
<rect x="312.00" y="349.77" width="26.40" height="4.42" fill="#7cc0f5" stroke="#000" stroke-width="1.4"/>
<path d="M365.25,331.14 V327.55 M358.95,327.55 H371.55" stroke="#000" stroke-width="1.3"/>
<rect x="352.20" y="331.84" width="26.10" height="22.36" fill="#d400f0" stroke="#000" stroke-width="1.4"/>
<path d="M405.65,347.54 V346.51 M399.35,346.51 H411.95" stroke="#000" stroke-width="1.3"/>
<rect x="392.70" y="348.24" width="25.90" height="5.96" fill="#d400f0" stroke="#000" stroke-width="1.4"/>
<path d="M446.10,294.24 V279.38 M439.80,279.38 H452.40" stroke="#000" stroke-width="1.3"/>
<rect x="433.10" y="294.94" width="26.00" height="59.26" fill="#d400f0" stroke="#000" stroke-width="1.4"/>
<path d="M304.7,251.7 V354.2 H466.4" stroke="#000" stroke-width="1.1" fill="none"/>
<path d="M301.5,354.20 H304.7" stroke="#000" stroke-width="0.9"/>
<text x="300.5" y="356.80" font-size="5.4" font-weight="bold" fill="#111" text-anchor="end" letter-spacing="0.8">0</text>
<path d="M301.5,328.57 H304.7" stroke="#000" stroke-width="0.9"/>
<text x="300.5" y="331.18" font-size="5.4" font-weight="bold" fill="#111" text-anchor="end" letter-spacing="0.8">5</text>
<path d="M301.5,302.95 H304.7" stroke="#000" stroke-width="0.9"/>
<text x="300.5" y="305.55" font-size="5.4" font-weight="bold" fill="#111" text-anchor="end" letter-spacing="0.8">10</text>
<path d="M301.5,277.32 H304.7" stroke="#000" stroke-width="0.9"/>
<text x="300.5" y="279.93" font-size="5.4" font-weight="bold" fill="#111" text-anchor="end" letter-spacing="0.8">15</text>
<path d="M301.5,251.70 H304.7" stroke="#000" stroke-width="0.9"/>
<text x="300.5" y="254.30" font-size="5.4" font-weight="bold" fill="#111" text-anchor="end" letter-spacing="0.8">20</text>
<path d="M325.20,354.2 V357.2" stroke="#000" stroke-width="0.9"/>
<text transform="translate(327.0,363.7) rotate(-45)" font-size="5.9" font-weight="bold" fill="#111" text-anchor="end" letter-spacing="1.45">MSCs</text>
<path d="M365.25,354.2 V357.2" stroke="#000" stroke-width="0.9"/>
<text transform="translate(367.1,363.7) rotate(-45)" font-size="5.9" font-weight="bold" fill="#111" text-anchor="end" letter-spacing="1.45">HOS</text>
<path d="M405.65,354.2 V357.2" stroke="#000" stroke-width="0.9"/>
<text transform="translate(407.4,363.7) rotate(-45)" font-size="5.9" font-weight="bold" fill="#111" text-anchor="end" letter-spacing="1.45">MG63</text>
<path d="M446.10,354.2 V357.2" stroke="#000" stroke-width="0.9"/>
<text transform="translate(447.9,363.7) rotate(-45)" font-size="5.9" font-weight="bold" fill="#111" text-anchor="end" letter-spacing="1.45">U2OS</text>
<path d="M365.30,308.40 L365.30,316.20 M361.92,310.35 L368.68,314.25 M361.92,314.25 L368.68,310.35 " stroke="#000" stroke-width="1.45"/>
<circle cx="365.30" cy="312.30" r="1.5" fill="#000"/>
<path d="M445.40,260.30 L445.40,268.10 M442.02,262.25 L448.78,266.15 M442.02,266.15 L448.78,262.25 " stroke="#000" stroke-width="1.45"/>
<circle cx="445.40" cy="264.20" r="1.5" fill="#000"/>
<text x="186.3" y="399.2" font-size="7" font-weight="bold" fill="#111" text-anchor="middle" letter-spacing="2.3">USP41</text>
<text transform="translate(91.8,463.4) rotate(-90)" font-size="7" font-weight="bold" fill="#111" text-anchor="middle" letter-spacing="0.79">Relative gene expression (% MSCs)</text>
<path d="M125.70,493.26 V478.81 M119.40,478.81 H132.00" stroke="#000" stroke-width="1.3"/>
<rect x="112.50" y="493.96" width="26.40" height="19.94" fill="#7cc0f5" stroke="#000" stroke-width="1.4"/>
<path d="M166.00,478.81 V472.62 M159.70,472.62 H172.30" stroke="#000" stroke-width="1.3"/>
<rect x="152.70" y="479.51" width="26.60" height="34.39" fill="#d400f0" stroke="#000" stroke-width="1.4"/>
<path d="M206.60,462.30 V444.76 M200.30,444.76 H212.90" stroke="#000" stroke-width="1.3"/>
<rect x="193.70" y="463.00" width="25.80" height="50.90" fill="#d400f0" stroke="#000" stroke-width="1.4"/>
<path d="M246.35,447.85 V422.05 M240.05,422.05 H252.65" stroke="#000" stroke-width="1.3"/>
<rect x="233.40" y="448.55" width="25.90" height="65.35" fill="#d400f0" stroke="#000" stroke-width="1.4"/>
<path d="M104.0,410.7 V513.9 H266.5" stroke="#000" stroke-width="1.1" fill="none"/>
<path d="M100.8,513.90 H104.0" stroke="#000" stroke-width="0.9"/>
<text x="99.8" y="516.50" font-size="5.4" font-weight="bold" fill="#111" text-anchor="end" letter-spacing="0.8">0</text>
<path d="M100.8,493.26 H104.0" stroke="#000" stroke-width="0.9"/>
<text x="99.8" y="495.86" font-size="5.4" font-weight="bold" fill="#111" text-anchor="end" letter-spacing="0.8">1</text>
<path d="M100.8,472.62 H104.0" stroke="#000" stroke-width="0.9"/>
<text x="99.8" y="475.22" font-size="5.4" font-weight="bold" fill="#111" text-anchor="end" letter-spacing="0.8">2</text>
<path d="M100.8,451.98 H104.0" stroke="#000" stroke-width="0.9"/>
<text x="99.8" y="454.58" font-size="5.4" font-weight="bold" fill="#111" text-anchor="end" letter-spacing="0.8">3</text>
<path d="M100.8,431.34 H104.0" stroke="#000" stroke-width="0.9"/>
<text x="99.8" y="433.94" font-size="5.4" font-weight="bold" fill="#111" text-anchor="end" letter-spacing="0.8">4</text>
<path d="M100.8,410.70 H104.0" stroke="#000" stroke-width="0.9"/>
<text x="99.8" y="413.30" font-size="5.4" font-weight="bold" fill="#111" text-anchor="end" letter-spacing="0.8">5</text>
<path d="M125.70,513.9 V516.9" stroke="#000" stroke-width="0.9"/>
<text transform="translate(127.5,523.4) rotate(-45)" font-size="5.9" font-weight="bold" fill="#111" text-anchor="end" letter-spacing="1.45">MSCs</text>
<path d="M166.00,513.9 V516.9" stroke="#000" stroke-width="0.9"/>
<text transform="translate(167.8,523.4) rotate(-45)" font-size="5.9" font-weight="bold" fill="#111" text-anchor="end" letter-spacing="1.45">HOS</text>
<path d="M206.60,513.9 V516.9" stroke="#000" stroke-width="0.9"/>
<text transform="translate(208.4,523.4) rotate(-45)" font-size="5.9" font-weight="bold" fill="#111" text-anchor="end" letter-spacing="1.45">MG63</text>
<path d="M246.35,513.9 V516.9" stroke="#000" stroke-width="0.9"/>
<text transform="translate(248.2,523.4) rotate(-45)" font-size="5.9" font-weight="bold" fill="#111" text-anchor="end" letter-spacing="1.45">U2OS</text>
<path d="M204.70,426.30 L204.70,434.10 M201.32,428.25 L208.08,432.15 M201.32,432.15 L208.08,428.25 " stroke="#000" stroke-width="1.45"/>
<circle cx="204.70" cy="430.20" r="1.5" fill="#000"/>
<path d="M246.10,403.30 L246.10,411.10 M242.72,405.25 L249.48,409.15 M242.72,409.15 L249.48,405.25 " stroke="#000" stroke-width="1.45"/>
<circle cx="246.10" cy="407.20" r="1.5" fill="#000"/>
<text x="386.1" y="398.9" font-size="7" font-weight="bold" fill="#111" text-anchor="middle" letter-spacing="2.3">USP43</text>
<text transform="translate(281.5,462.9) rotate(-90)" font-size="7" font-weight="bold" fill="#111" text-anchor="middle" letter-spacing="0.79">Relative gene expression (% MSCs)</text>
<path d="M324.45,511.31 V508.85 M318.15,508.85 H330.75" stroke="#000" stroke-width="1.3"/>
<rect x="311.00" y="512.01" width="26.90" height="1.39" fill="#2c4a6a" stroke="#000" stroke-width="1.4"/>
<path d="M364.75,449.53 V441.64 M358.45,441.64 H371.05" stroke="#000" stroke-width="1.3"/>
<rect x="351.80" y="450.23" width="25.90" height="63.17" fill="#d400f0" stroke="#000" stroke-width="1.4"/>
<path d="M405.45,482.12 V466.76 M399.15,466.76 H411.75" stroke="#000" stroke-width="1.3"/>
<rect x="392.50" y="482.82" width="25.90" height="30.58" fill="#d400f0" stroke="#000" stroke-width="1.4"/>
<path d="M445.80,435.34 V416.89 M439.50,416.89 H452.10" stroke="#000" stroke-width="1.3"/>
<rect x="432.50" y="436.04" width="26.60" height="77.36" fill="#d400f0" stroke="#000" stroke-width="1.4"/>
<rect x="300" y="458.6" width="170" height="7.0" fill="#fff"/>
<path d="M303.7,410.9 V458.4 M303.7,466 V513.4 H466.4" stroke="#000" stroke-width="1.1" fill="none"/>
<path d="M300.5,458.4 H306.7 M300.5,466 H306.7" stroke="#000" stroke-width="1"/>
<path d="M300.5,513.40 H303.7" stroke="#000" stroke-width="0.9"/>
<text x="299.5" y="516.00" font-size="5.4" font-weight="bold" fill="#111" text-anchor="end" letter-spacing="0.8">0</text>
<path d="M300.5,503.92 H303.7" stroke="#000" stroke-width="0.9"/>
<text x="299.5" y="506.52" font-size="5.4" font-weight="bold" fill="#111" text-anchor="end" letter-spacing="0.8">5</text>
<path d="M300.5,494.44 H303.7" stroke="#000" stroke-width="0.9"/>
<text x="299.5" y="497.04" font-size="5.4" font-weight="bold" fill="#111" text-anchor="end" letter-spacing="0.8">10</text>
<path d="M300.5,484.96 H303.7" stroke="#000" stroke-width="0.9"/>
<text x="299.5" y="487.56" font-size="5.4" font-weight="bold" fill="#111" text-anchor="end" letter-spacing="0.8">15</text>
<path d="M300.5,475.48 H303.7" stroke="#000" stroke-width="0.9"/>
<text x="299.5" y="478.08" font-size="5.4" font-weight="bold" fill="#111" text-anchor="end" letter-spacing="0.8">20</text>
<path d="M300.5,466.00 H303.7" stroke="#000" stroke-width="0.9"/>
<text x="299.5" y="468.60" font-size="5.4" font-weight="bold" fill="#111" text-anchor="end" letter-spacing="0.8">25</text>
<path d="M300.5,458.20 H303.7" stroke="#000" stroke-width="0.9"/>
<text x="299.5" y="460.80" font-size="5.4" font-weight="bold" fill="#111" text-anchor="end" letter-spacing="0.8">100</text>
<path d="M300.5,442.43 H303.7" stroke="#000" stroke-width="0.9"/>
<text x="299.5" y="445.03" font-size="5.4" font-weight="bold" fill="#111" text-anchor="end" letter-spacing="0.8">200</text>
<path d="M300.5,426.67 H303.7" stroke="#000" stroke-width="0.9"/>
<text x="299.5" y="429.27" font-size="5.4" font-weight="bold" fill="#111" text-anchor="end" letter-spacing="0.8">300</text>
<path d="M300.5,410.90 H303.7" stroke="#000" stroke-width="0.9"/>
<text x="299.5" y="413.50" font-size="5.4" font-weight="bold" fill="#111" text-anchor="end" letter-spacing="0.8">400</text>
<path d="M324.45,513.4 V516.4" stroke="#000" stroke-width="0.9"/>
<text transform="translate(326.3,522.9) rotate(-45)" font-size="5.9" font-weight="bold" fill="#111" text-anchor="end" letter-spacing="1.45">MSCs</text>
<path d="M364.75,513.4 V516.4" stroke="#000" stroke-width="0.9"/>
<text transform="translate(366.6,522.9) rotate(-45)" font-size="5.9" font-weight="bold" fill="#111" text-anchor="end" letter-spacing="1.45">HOS</text>
<path d="M405.45,513.4 V516.4" stroke="#000" stroke-width="0.9"/>
<text transform="translate(407.3,522.9) rotate(-45)" font-size="5.9" font-weight="bold" fill="#111" text-anchor="end" letter-spacing="1.45">MG63</text>
<path d="M445.80,513.4 V516.4" stroke="#000" stroke-width="0.9"/>
<text transform="translate(447.6,522.9) rotate(-45)" font-size="5.9" font-weight="bold" fill="#111" text-anchor="end" letter-spacing="1.45">U2OS</text>
<path d="M364.50,423.40 L364.50,431.20 M361.12,425.35 L367.88,429.25 M361.12,429.25 L367.88,425.35 " stroke="#000" stroke-width="1.45"/>
<circle cx="364.50" cy="427.30" r="1.5" fill="#000"/>
<path d="M405.30,448.10 L405.30,455.90 M401.92,450.05 L408.68,453.95 M401.92,453.95 L408.68,450.05 " stroke="#000" stroke-width="1.45"/>
<circle cx="405.30" cy="452.00" r="1.5" fill="#000"/>
<path d="M444.50,397.10 L444.50,404.90 M441.12,399.05 L447.88,402.95 M441.12,402.95 L447.88,399.05 " stroke="#000" stroke-width="1.45"/>
<circle cx="444.50" cy="401.00" r="1.5" fill="#000"/>
</svg></body></html>
